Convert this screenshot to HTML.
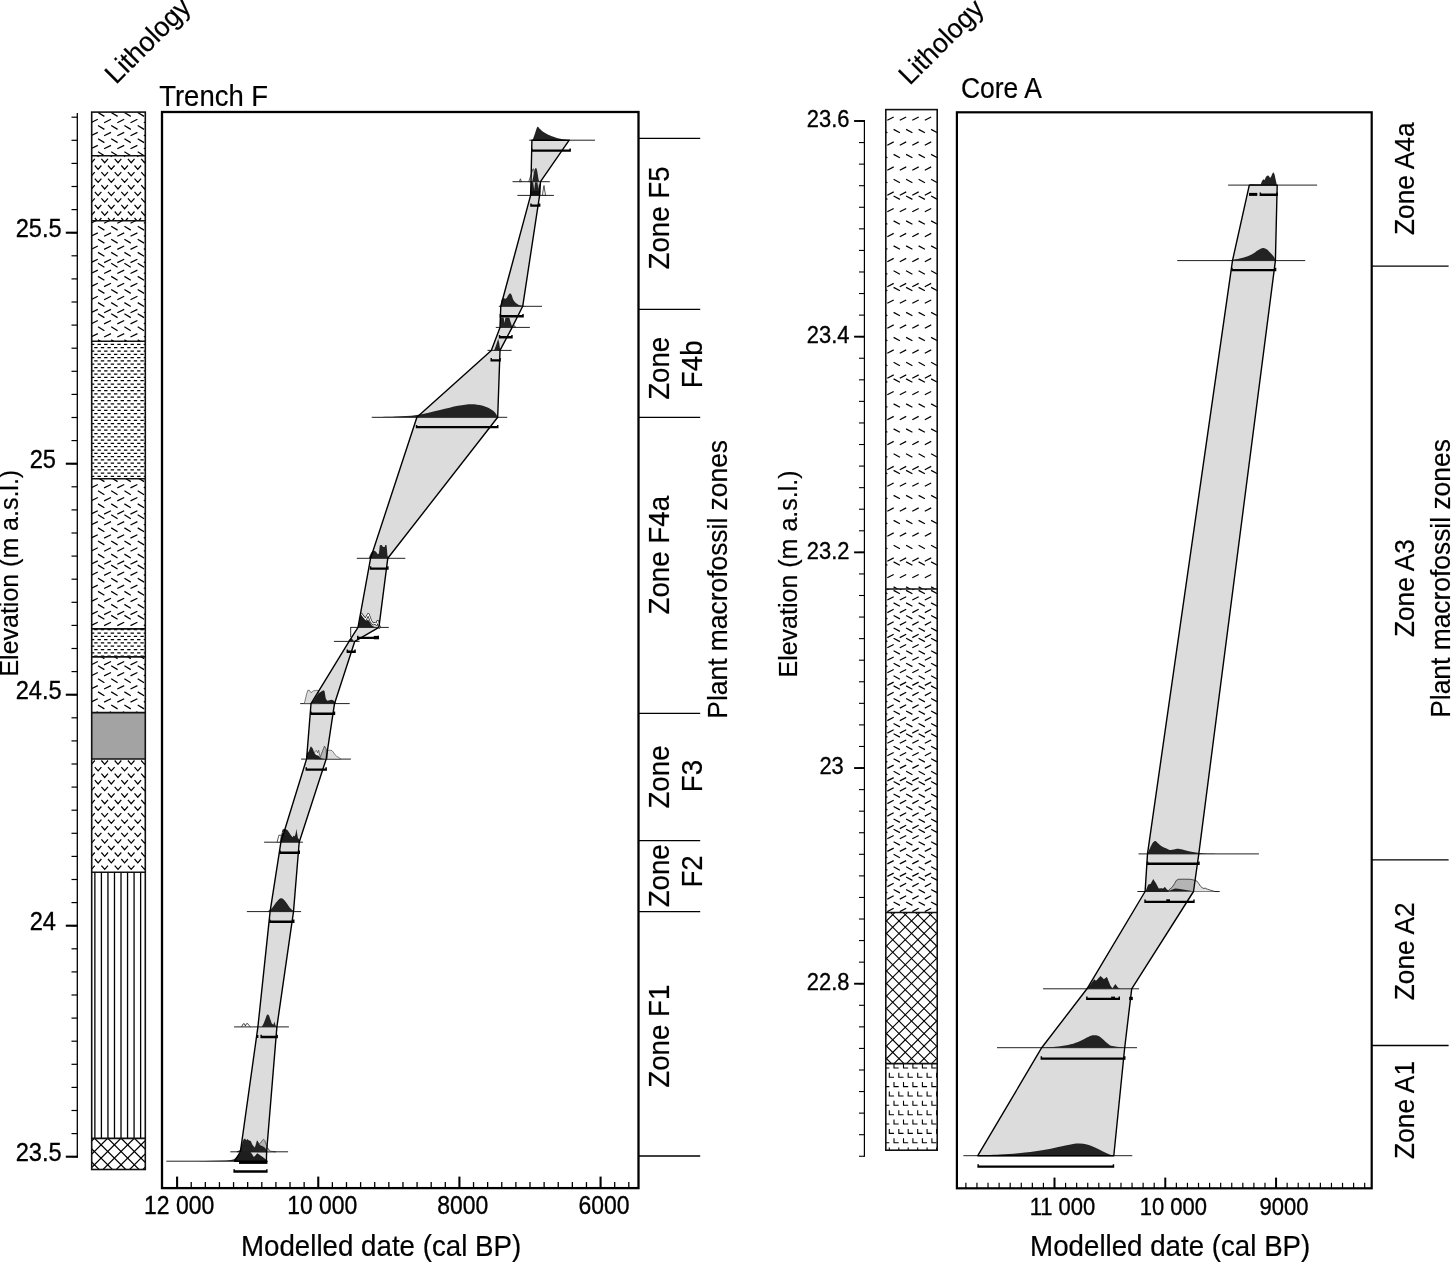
<!DOCTYPE html>
<html lang="en"><head><meta charset="utf-8"><title>Age-depth models: Trench F and Core A</title>
<style>html,body{margin:0;padding:0;background:#fff}body{width:1454px;height:1262px;overflow:hidden}svg{display:block}text{font-family:'Liberation Sans', Arial, Helvetica, sans-serif;fill:#000}</style>
</head><body>
<svg width="1454" height="1262" viewBox="0 0 1454 1262">
<rect x="0" y="0" width="1454" height="1262" fill="#fff"/>
<rect x="91.7" y="112.1" width="53.6" height="43.7" fill="#fff"/>
<clipPath id="hc1"><rect x="91.70" y="112.10" width="53.60" height="43.70"/></clipPath>
<path d="M90.9 111.7l6.9 -3.4M104.1 111.7l6.9 -3.4M117.3 111.7l6.9 -3.4M130.5 111.7l6.9 -3.4M143.8 111.7l6.9 -3.4M84.8 112.5l6.4 3.9M98.0 112.5l6.4 3.9M111.2 112.5l6.4 3.9M124.4 112.5l6.4 3.9M137.7 112.5l6.4 3.9M90.9 122.7l6.9 -3.4M104.1 122.7l6.9 -3.4M117.3 122.7l6.9 -3.4M130.5 122.7l6.9 -3.4M143.8 122.7l6.9 -3.4M84.8 125.5l6.4 3.9M98.0 125.5l6.4 3.9M111.2 125.5l6.4 3.9M124.4 125.5l6.4 3.9M137.7 125.5l6.4 3.9M90.9 135.8l6.9 -3.4M104.1 135.8l6.9 -3.4M117.3 135.8l6.9 -3.4M130.5 135.8l6.9 -3.4M143.8 135.8l6.9 -3.4M84.8 138.7l6.4 3.9M98.0 138.7l6.4 3.9M111.2 138.7l6.4 3.9M124.4 138.7l6.4 3.9M137.7 138.7l6.4 3.9M90.9 148.8l6.9 -3.4M104.1 148.8l6.9 -3.4M117.3 148.8l6.9 -3.4M130.5 148.8l6.9 -3.4M143.8 148.8l6.9 -3.4M84.8 151.8l6.4 3.9M98.0 151.8l6.4 3.9M111.2 151.8l6.4 3.9M124.4 151.8l6.4 3.9M137.7 151.8l6.4 3.9" clip-path="url(#hc1)" stroke="#000" stroke-width="1.25" fill="none"/>
<rect x="91.7" y="155.8" width="53.6" height="64.9" fill="#fff"/>
<clipPath id="hc2"><rect x="91.70" y="155.80" width="53.60" height="64.90"/></clipPath>
<path d="M94.8 152.4l3.3 3.8l3.3 -3.8M108.0 152.4l3.3 3.8l3.3 -3.8M121.3 152.4l3.3 3.8l3.3 -3.8M134.5 152.4l3.3 3.8l3.3 -3.8M88.2 158.9l3.3 3.8l3.3 -3.8M101.4 158.9l3.3 3.8l3.3 -3.8M114.7 158.9l3.3 3.8l3.3 -3.8M127.9 158.9l3.3 3.8l3.3 -3.8M141.2 158.9l3.3 3.8l3.3 -3.8M94.8 165.5l3.3 3.8l3.3 -3.8M108.0 165.5l3.3 3.8l3.3 -3.8M121.3 165.5l3.3 3.8l3.3 -3.8M134.5 165.5l3.3 3.8l3.3 -3.8M88.2 172.1l3.3 3.8l3.3 -3.8M101.4 172.1l3.3 3.8l3.3 -3.8M114.7 172.1l3.3 3.8l3.3 -3.8M127.9 172.1l3.3 3.8l3.3 -3.8M141.2 172.1l3.3 3.8l3.3 -3.8M94.8 178.6l3.3 3.8l3.3 -3.8M108.0 178.6l3.3 3.8l3.3 -3.8M121.3 178.6l3.3 3.8l3.3 -3.8M134.5 178.6l3.3 3.8l3.3 -3.8M88.2 185.2l3.3 3.8l3.3 -3.8M101.4 185.2l3.3 3.8l3.3 -3.8M114.7 185.2l3.3 3.8l3.3 -3.8M127.9 185.2l3.3 3.8l3.3 -3.8M141.2 185.2l3.3 3.8l3.3 -3.8M94.8 191.8l3.3 3.8l3.3 -3.8M108.0 191.8l3.3 3.8l3.3 -3.8M121.3 191.8l3.3 3.8l3.3 -3.8M134.5 191.8l3.3 3.8l3.3 -3.8M88.2 198.3l3.3 3.8l3.3 -3.8M101.4 198.3l3.3 3.8l3.3 -3.8M114.7 198.3l3.3 3.8l3.3 -3.8M127.9 198.3l3.3 3.8l3.3 -3.8M141.2 198.3l3.3 3.8l3.3 -3.8M94.8 204.9l3.3 3.8l3.3 -3.8M108.0 204.9l3.3 3.8l3.3 -3.8M121.3 204.9l3.3 3.8l3.3 -3.8M134.5 204.9l3.3 3.8l3.3 -3.8M88.2 211.5l3.3 3.8l3.3 -3.8M101.4 211.5l3.3 3.8l3.3 -3.8M114.7 211.5l3.3 3.8l3.3 -3.8M127.9 211.5l3.3 3.8l3.3 -3.8M141.2 211.5l3.3 3.8l3.3 -3.8M94.8 218.0l3.3 3.8l3.3 -3.8M108.0 218.0l3.3 3.8l3.3 -3.8M121.3 218.0l3.3 3.8l3.3 -3.8M134.5 218.0l3.3 3.8l3.3 -3.8" clip-path="url(#hc2)" stroke="#000" stroke-width="1.25" fill="none" stroke-linejoin="miter"/>
<rect x="91.7" y="220.7" width="53.6" height="120.5" fill="#fff"/>
<clipPath id="hc3"><rect x="91.70" y="220.70" width="53.60" height="120.50"/></clipPath>
<path d="M90.9 223.2l6.9 -3.4M104.1 223.2l6.9 -3.4M117.3 223.2l6.9 -3.4M130.5 223.2l6.9 -3.4M143.8 223.2l6.9 -3.4M84.8 226.2l6.4 3.9M98.0 226.2l6.4 3.9M111.2 226.2l6.4 3.9M124.4 226.2l6.4 3.9M137.7 226.2l6.4 3.9M90.9 236.3l6.9 -3.4M104.1 236.3l6.9 -3.4M117.3 236.3l6.9 -3.4M130.5 236.3l6.9 -3.4M143.8 236.3l6.9 -3.4M84.8 239.2l6.4 3.9M98.0 239.2l6.4 3.9M111.2 239.2l6.4 3.9M124.4 239.2l6.4 3.9M137.7 239.2l6.4 3.9M90.9 249.4l6.9 -3.4M104.1 249.4l6.9 -3.4M117.3 249.4l6.9 -3.4M130.5 249.4l6.9 -3.4M143.8 249.4l6.9 -3.4M84.8 252.4l6.4 3.9M98.0 252.4l6.4 3.9M111.2 252.4l6.4 3.9M124.4 252.4l6.4 3.9M137.7 252.4l6.4 3.9M90.9 262.6l6.9 -3.4M104.1 262.6l6.9 -3.4M117.3 262.6l6.9 -3.4M130.5 262.6l6.9 -3.4M143.8 262.6l6.9 -3.4M84.8 263.3l6.4 3.9M98.0 263.3l6.4 3.9M111.2 263.3l6.4 3.9M124.4 263.3l6.4 3.9M137.7 263.3l6.4 3.9M90.9 273.5l6.9 -3.4M104.1 273.5l6.9 -3.4M117.3 273.5l6.9 -3.4M130.5 273.5l6.9 -3.4M143.8 273.5l6.9 -3.4M84.8 276.4l6.4 3.9M98.0 276.4l6.4 3.9M111.2 276.4l6.4 3.9M124.4 276.4l6.4 3.9M137.7 276.4l6.4 3.9M90.9 286.6l6.9 -3.4M104.1 286.6l6.9 -3.4M117.3 286.6l6.9 -3.4M130.5 286.6l6.9 -3.4M143.8 286.6l6.9 -3.4M84.8 289.5l6.4 3.9M98.0 289.5l6.4 3.9M111.2 289.5l6.4 3.9M124.4 289.5l6.4 3.9M137.7 289.5l6.4 3.9M90.9 299.7l6.9 -3.4M104.1 299.7l6.9 -3.4M117.3 299.7l6.9 -3.4M130.5 299.7l6.9 -3.4M143.8 299.7l6.9 -3.4M84.8 302.6l6.4 3.9M98.0 302.6l6.4 3.9M111.2 302.6l6.4 3.9M124.4 302.6l6.4 3.9M137.7 302.6l6.4 3.9M90.9 312.8l6.9 -3.4M104.1 312.8l6.9 -3.4M117.3 312.8l6.9 -3.4M130.5 312.8l6.9 -3.4M143.8 312.8l6.9 -3.4M84.8 313.7l6.4 3.9M98.0 313.7l6.4 3.9M111.2 313.7l6.4 3.9M124.4 313.7l6.4 3.9M137.7 313.7l6.4 3.9M90.9 323.9l6.9 -3.4M104.1 323.9l6.9 -3.4M117.3 323.9l6.9 -3.4M130.5 323.9l6.9 -3.4M143.8 323.9l6.9 -3.4M84.8 326.8l6.4 3.9M98.0 326.8l6.4 3.9M111.2 326.8l6.4 3.9M124.4 326.8l6.4 3.9M137.7 326.8l6.4 3.9M90.9 337.0l6.9 -3.4M104.1 337.0l6.9 -3.4M117.3 337.0l6.9 -3.4M130.5 337.0l6.9 -3.4M143.8 337.0l6.9 -3.4M84.8 339.9l6.4 3.9M98.0 339.9l6.4 3.9M111.2 339.9l6.4 3.9M124.4 339.9l6.4 3.9M137.7 339.9l6.4 3.9" clip-path="url(#hc3)" stroke="#000" stroke-width="1.25" fill="none"/>
<rect x="91.7" y="341.2" width="53.6" height="137.6" fill="#fff"/>
<clipPath id="hc4"><rect x="91.70" y="341.20" width="53.60" height="137.60"/></clipPath>
<path d="M87.6 341.1h3.4M94.2 341.1h3.4M100.8 341.1h3.4M107.4 341.1h3.4M114.0 341.1h3.4M120.6 341.1h3.4M127.2 341.1h3.4M133.8 341.1h3.4M140.4 341.1h3.4M90.9 344.4h3.4M97.5 344.4h3.4M104.1 344.4h3.4M110.7 344.4h3.4M117.3 344.4h3.4M123.9 344.4h3.4M130.5 344.4h3.4M137.1 344.4h3.4M143.7 344.4h3.4M87.6 347.7h3.4M94.2 347.7h3.4M100.8 347.7h3.4M107.4 347.7h3.4M114.0 347.7h3.4M120.6 347.7h3.4M127.2 347.7h3.4M133.8 347.7h3.4M140.4 347.7h3.4M90.9 351.0h3.4M97.5 351.0h3.4M104.1 351.0h3.4M110.7 351.0h3.4M117.3 351.0h3.4M123.9 351.0h3.4M130.5 351.0h3.4M137.1 351.0h3.4M143.7 351.0h3.4M87.6 354.3h3.4M94.2 354.3h3.4M100.8 354.3h3.4M107.4 354.3h3.4M114.0 354.3h3.4M120.6 354.3h3.4M127.2 354.3h3.4M133.8 354.3h3.4M140.4 354.3h3.4M90.9 357.6h3.4M97.5 357.6h3.4M104.1 357.6h3.4M110.7 357.6h3.4M117.3 357.6h3.4M123.9 357.6h3.4M130.5 357.6h3.4M137.1 357.6h3.4M143.7 357.6h3.4M87.6 360.9h3.4M94.2 360.9h3.4M100.8 360.9h3.4M107.4 360.9h3.4M114.0 360.9h3.4M120.6 360.9h3.4M127.2 360.9h3.4M133.8 360.9h3.4M140.4 360.9h3.4M90.9 364.2h3.4M97.5 364.2h3.4M104.1 364.2h3.4M110.7 364.2h3.4M117.3 364.2h3.4M123.9 364.2h3.4M130.5 364.2h3.4M137.1 364.2h3.4M143.7 364.2h3.4M87.6 367.5h3.4M94.2 367.5h3.4M100.8 367.5h3.4M107.4 367.5h3.4M114.0 367.5h3.4M120.6 367.5h3.4M127.2 367.5h3.4M133.8 367.5h3.4M140.4 367.5h3.4M90.9 370.8h3.4M97.5 370.8h3.4M104.1 370.8h3.4M110.7 370.8h3.4M117.3 370.8h3.4M123.9 370.8h3.4M130.5 370.8h3.4M137.1 370.8h3.4M143.7 370.8h3.4M87.6 374.1h3.4M94.2 374.1h3.4M100.8 374.1h3.4M107.4 374.1h3.4M114.0 374.1h3.4M120.6 374.1h3.4M127.2 374.1h3.4M133.8 374.1h3.4M140.4 374.1h3.4M90.9 377.4h3.4M97.5 377.4h3.4M104.1 377.4h3.4M110.7 377.4h3.4M117.3 377.4h3.4M123.9 377.4h3.4M130.5 377.4h3.4M137.1 377.4h3.4M143.7 377.4h3.4M87.6 380.7h3.4M94.2 380.7h3.4M100.8 380.7h3.4M107.4 380.7h3.4M114.0 380.7h3.4M120.6 380.7h3.4M127.2 380.7h3.4M133.8 380.7h3.4M140.4 380.7h3.4M90.9 384.0h3.4M97.5 384.0h3.4M104.1 384.0h3.4M110.7 384.0h3.4M117.3 384.0h3.4M123.9 384.0h3.4M130.5 384.0h3.4M137.1 384.0h3.4M143.7 384.0h3.4M87.6 387.3h3.4M94.2 387.3h3.4M100.8 387.3h3.4M107.4 387.3h3.4M114.0 387.3h3.4M120.6 387.3h3.4M127.2 387.3h3.4M133.8 387.3h3.4M140.4 387.3h3.4M90.9 390.6h3.4M97.5 390.6h3.4M104.1 390.6h3.4M110.7 390.6h3.4M117.3 390.6h3.4M123.9 390.6h3.4M130.5 390.6h3.4M137.1 390.6h3.4M143.7 390.6h3.4M87.6 393.9h3.4M94.2 393.9h3.4M100.8 393.9h3.4M107.4 393.9h3.4M114.0 393.9h3.4M120.6 393.9h3.4M127.2 393.9h3.4M133.8 393.9h3.4M140.4 393.9h3.4M90.9 397.2h3.4M97.5 397.2h3.4M104.1 397.2h3.4M110.7 397.2h3.4M117.3 397.2h3.4M123.9 397.2h3.4M130.5 397.2h3.4M137.1 397.2h3.4M143.7 397.2h3.4M87.6 400.5h3.4M94.2 400.5h3.4M100.8 400.5h3.4M107.4 400.5h3.4M114.0 400.5h3.4M120.6 400.5h3.4M127.2 400.5h3.4M133.8 400.5h3.4M140.4 400.5h3.4M90.9 403.8h3.4M97.5 403.8h3.4M104.1 403.8h3.4M110.7 403.8h3.4M117.3 403.8h3.4M123.9 403.8h3.4M130.5 403.8h3.4M137.1 403.8h3.4M143.7 403.8h3.4M87.6 407.1h3.4M94.2 407.1h3.4M100.8 407.1h3.4M107.4 407.1h3.4M114.0 407.1h3.4M120.6 407.1h3.4M127.2 407.1h3.4M133.8 407.1h3.4M140.4 407.1h3.4M90.9 410.4h3.4M97.5 410.4h3.4M104.1 410.4h3.4M110.7 410.4h3.4M117.3 410.4h3.4M123.9 410.4h3.4M130.5 410.4h3.4M137.1 410.4h3.4M143.7 410.4h3.4M87.6 413.7h3.4M94.2 413.7h3.4M100.8 413.7h3.4M107.4 413.7h3.4M114.0 413.7h3.4M120.6 413.7h3.4M127.2 413.7h3.4M133.8 413.7h3.4M140.4 413.7h3.4M90.9 417.0h3.4M97.5 417.0h3.4M104.1 417.0h3.4M110.7 417.0h3.4M117.3 417.0h3.4M123.9 417.0h3.4M130.5 417.0h3.4M137.1 417.0h3.4M143.7 417.0h3.4M87.6 420.3h3.4M94.2 420.3h3.4M100.8 420.3h3.4M107.4 420.3h3.4M114.0 420.3h3.4M120.6 420.3h3.4M127.2 420.3h3.4M133.8 420.3h3.4M140.4 420.3h3.4M90.9 423.6h3.4M97.5 423.6h3.4M104.1 423.6h3.4M110.7 423.6h3.4M117.3 423.6h3.4M123.9 423.6h3.4M130.5 423.6h3.4M137.1 423.6h3.4M143.7 423.6h3.4M87.6 426.9h3.4M94.2 426.9h3.4M100.8 426.9h3.4M107.4 426.9h3.4M114.0 426.9h3.4M120.6 426.9h3.4M127.2 426.9h3.4M133.8 426.9h3.4M140.4 426.9h3.4M90.9 430.2h3.4M97.5 430.2h3.4M104.1 430.2h3.4M110.7 430.2h3.4M117.3 430.2h3.4M123.9 430.2h3.4M130.5 430.2h3.4M137.1 430.2h3.4M143.7 430.2h3.4M87.6 433.5h3.4M94.2 433.5h3.4M100.8 433.5h3.4M107.4 433.5h3.4M114.0 433.5h3.4M120.6 433.5h3.4M127.2 433.5h3.4M133.8 433.5h3.4M140.4 433.5h3.4M90.9 436.8h3.4M97.5 436.8h3.4M104.1 436.8h3.4M110.7 436.8h3.4M117.3 436.8h3.4M123.9 436.8h3.4M130.5 436.8h3.4M137.1 436.8h3.4M143.7 436.8h3.4M87.6 440.1h3.4M94.2 440.1h3.4M100.8 440.1h3.4M107.4 440.1h3.4M114.0 440.1h3.4M120.6 440.1h3.4M127.2 440.1h3.4M133.8 440.1h3.4M140.4 440.1h3.4M90.9 443.4h3.4M97.5 443.4h3.4M104.1 443.4h3.4M110.7 443.4h3.4M117.3 443.4h3.4M123.9 443.4h3.4M130.5 443.4h3.4M137.1 443.4h3.4M143.7 443.4h3.4M87.6 446.7h3.4M94.2 446.7h3.4M100.8 446.7h3.4M107.4 446.7h3.4M114.0 446.7h3.4M120.6 446.7h3.4M127.2 446.7h3.4M133.8 446.7h3.4M140.4 446.7h3.4M90.9 450.0h3.4M97.5 450.0h3.4M104.1 450.0h3.4M110.7 450.0h3.4M117.3 450.0h3.4M123.9 450.0h3.4M130.5 450.0h3.4M137.1 450.0h3.4M143.7 450.0h3.4M87.6 453.3h3.4M94.2 453.3h3.4M100.8 453.3h3.4M107.4 453.3h3.4M114.0 453.3h3.4M120.6 453.3h3.4M127.2 453.3h3.4M133.8 453.3h3.4M140.4 453.3h3.4M90.9 456.6h3.4M97.5 456.6h3.4M104.1 456.6h3.4M110.7 456.6h3.4M117.3 456.6h3.4M123.9 456.6h3.4M130.5 456.6h3.4M137.1 456.6h3.4M143.7 456.6h3.4M87.6 459.9h3.4M94.2 459.9h3.4M100.8 459.9h3.4M107.4 459.9h3.4M114.0 459.9h3.4M120.6 459.9h3.4M127.2 459.9h3.4M133.8 459.9h3.4M140.4 459.9h3.4M90.9 463.2h3.4M97.5 463.2h3.4M104.1 463.2h3.4M110.7 463.2h3.4M117.3 463.2h3.4M123.9 463.2h3.4M130.5 463.2h3.4M137.1 463.2h3.4M143.7 463.2h3.4M87.6 466.5h3.4M94.2 466.5h3.4M100.8 466.5h3.4M107.4 466.5h3.4M114.0 466.5h3.4M120.6 466.5h3.4M127.2 466.5h3.4M133.8 466.5h3.4M140.4 466.5h3.4M90.9 469.8h3.4M97.5 469.8h3.4M104.1 469.8h3.4M110.7 469.8h3.4M117.3 469.8h3.4M123.9 469.8h3.4M130.5 469.8h3.4M137.1 469.8h3.4M143.7 469.8h3.4M87.6 473.1h3.4M94.2 473.1h3.4M100.8 473.1h3.4M107.4 473.1h3.4M114.0 473.1h3.4M120.6 473.1h3.4M127.2 473.1h3.4M133.8 473.1h3.4M140.4 473.1h3.4M90.9 476.4h3.4M97.5 476.4h3.4M104.1 476.4h3.4M110.7 476.4h3.4M117.3 476.4h3.4M123.9 476.4h3.4M130.5 476.4h3.4M137.1 476.4h3.4M143.7 476.4h3.4M87.6 479.7h3.4M94.2 479.7h3.4M100.8 479.7h3.4M107.4 479.7h3.4M114.0 479.7h3.4M120.6 479.7h3.4M127.2 479.7h3.4M133.8 479.7h3.4M140.4 479.7h3.4" clip-path="url(#hc4)" stroke="#000" stroke-width="1.25" fill="none"/>
<rect x="91.7" y="478.8" width="53.6" height="150.1" fill="#fff"/>
<clipPath id="hc5"><rect x="91.70" y="478.80" width="53.60" height="150.10"/></clipPath>
<path d="M84.8 477.7l6.4 3.9M98.0 477.7l6.4 3.9M111.2 477.7l6.4 3.9M124.4 477.7l6.4 3.9M137.7 477.7l6.4 3.9M90.9 487.9l6.9 -3.4M104.1 487.9l6.9 -3.4M117.3 487.9l6.9 -3.4M130.5 487.9l6.9 -3.4M143.8 487.9l6.9 -3.4M84.8 490.8l6.4 3.9M98.0 490.8l6.4 3.9M111.2 490.8l6.4 3.9M124.4 490.8l6.4 3.9M137.7 490.8l6.4 3.9M90.9 500.9l6.9 -3.4M104.1 500.9l6.9 -3.4M117.3 500.9l6.9 -3.4M130.5 500.9l6.9 -3.4M143.8 500.9l6.9 -3.4M84.8 503.9l6.4 3.9M98.0 503.9l6.4 3.9M111.2 503.9l6.4 3.9M124.4 503.9l6.4 3.9M137.7 503.9l6.4 3.9M90.9 514.1l6.9 -3.4M104.1 514.1l6.9 -3.4M117.3 514.1l6.9 -3.4M130.5 514.1l6.9 -3.4M143.8 514.1l6.9 -3.4M84.8 514.8l6.4 3.9M98.0 514.8l6.4 3.9M111.2 514.8l6.4 3.9M124.4 514.8l6.4 3.9M137.7 514.8l6.4 3.9M90.9 525.0l6.9 -3.4M104.1 525.0l6.9 -3.4M117.3 525.0l6.9 -3.4M130.5 525.0l6.9 -3.4M143.8 525.0l6.9 -3.4M84.8 527.9l6.4 3.9M98.0 527.9l6.4 3.9M111.2 527.9l6.4 3.9M124.4 527.9l6.4 3.9M137.7 527.9l6.4 3.9M90.9 538.1l6.9 -3.4M104.1 538.1l6.9 -3.4M117.3 538.1l6.9 -3.4M130.5 538.1l6.9 -3.4M143.8 538.1l6.9 -3.4M84.8 541.0l6.4 3.9M98.0 541.0l6.4 3.9M111.2 541.0l6.4 3.9M124.4 541.0l6.4 3.9M137.7 541.0l6.4 3.9M90.9 551.2l6.9 -3.4M104.1 551.2l6.9 -3.4M117.3 551.2l6.9 -3.4M130.5 551.2l6.9 -3.4M143.8 551.2l6.9 -3.4M84.8 554.1l6.4 3.9M98.0 554.1l6.4 3.9M111.2 554.1l6.4 3.9M124.4 554.1l6.4 3.9M137.7 554.1l6.4 3.9M90.9 564.3l6.9 -3.4M104.1 564.3l6.9 -3.4M117.3 564.3l6.9 -3.4M130.5 564.3l6.9 -3.4M143.8 564.3l6.9 -3.4M84.8 565.1l6.4 3.9M98.0 565.1l6.4 3.9M111.2 565.1l6.4 3.9M124.4 565.1l6.4 3.9M137.7 565.1l6.4 3.9M90.9 575.4l6.9 -3.4M104.1 575.4l6.9 -3.4M117.3 575.4l6.9 -3.4M130.5 575.4l6.9 -3.4M143.8 575.4l6.9 -3.4M84.8 578.2l6.4 3.9M98.0 578.2l6.4 3.9M111.2 578.2l6.4 3.9M124.4 578.2l6.4 3.9M137.7 578.2l6.4 3.9M90.9 588.5l6.9 -3.4M104.1 588.5l6.9 -3.4M117.3 588.5l6.9 -3.4M130.5 588.5l6.9 -3.4M143.8 588.5l6.9 -3.4M84.8 591.4l6.4 3.9M98.0 591.4l6.4 3.9M111.2 591.4l6.4 3.9M124.4 591.4l6.4 3.9M137.7 591.4l6.4 3.9M90.9 601.6l6.9 -3.4M104.1 601.6l6.9 -3.4M117.3 601.6l6.9 -3.4M130.5 601.6l6.9 -3.4M143.8 601.6l6.9 -3.4M84.8 604.4l6.4 3.9M98.0 604.4l6.4 3.9M111.2 604.4l6.4 3.9M124.4 604.4l6.4 3.9M137.7 604.4l6.4 3.9M90.9 614.6l6.9 -3.4M104.1 614.6l6.9 -3.4M117.3 614.6l6.9 -3.4M130.5 614.6l6.9 -3.4M143.8 614.6l6.9 -3.4M84.8 615.4l6.4 3.9M98.0 615.4l6.4 3.9M111.2 615.4l6.4 3.9M124.4 615.4l6.4 3.9M137.7 615.4l6.4 3.9M90.9 625.6l6.9 -3.4M104.1 625.6l6.9 -3.4M117.3 625.6l6.9 -3.4M130.5 625.6l6.9 -3.4M143.8 625.6l6.9 -3.4M84.8 628.5l6.4 3.9M98.0 628.5l6.4 3.9M111.2 628.5l6.4 3.9M124.4 628.5l6.4 3.9M137.7 628.5l6.4 3.9" clip-path="url(#hc5)" stroke="#000" stroke-width="1.25" fill="none"/>
<rect x="91.7" y="628.9" width="53.6" height="28.0" fill="#fff"/>
<clipPath id="hc6"><rect x="91.70" y="628.90" width="53.60" height="28.00"/></clipPath>
<path d="M87.6 629.7h3.4M94.2 629.7h3.4M100.8 629.7h3.4M107.4 629.7h3.4M114.0 629.7h3.4M120.6 629.7h3.4M127.2 629.7h3.4M133.8 629.7h3.4M140.4 629.7h3.4M90.9 633.0h3.4M97.5 633.0h3.4M104.1 633.0h3.4M110.7 633.0h3.4M117.3 633.0h3.4M123.9 633.0h3.4M130.5 633.0h3.4M137.1 633.0h3.4M143.7 633.0h3.4M87.6 636.3h3.4M94.2 636.3h3.4M100.8 636.3h3.4M107.4 636.3h3.4M114.0 636.3h3.4M120.6 636.3h3.4M127.2 636.3h3.4M133.8 636.3h3.4M140.4 636.3h3.4M90.9 639.6h3.4M97.5 639.6h3.4M104.1 639.6h3.4M110.7 639.6h3.4M117.3 639.6h3.4M123.9 639.6h3.4M130.5 639.6h3.4M137.1 639.6h3.4M143.7 639.6h3.4M87.6 642.9h3.4M94.2 642.9h3.4M100.8 642.9h3.4M107.4 642.9h3.4M114.0 642.9h3.4M120.6 642.9h3.4M127.2 642.9h3.4M133.8 642.9h3.4M140.4 642.9h3.4M90.9 646.2h3.4M97.5 646.2h3.4M104.1 646.2h3.4M110.7 646.2h3.4M117.3 646.2h3.4M123.9 646.2h3.4M130.5 646.2h3.4M137.1 646.2h3.4M143.7 646.2h3.4M87.6 649.5h3.4M94.2 649.5h3.4M100.8 649.5h3.4M107.4 649.5h3.4M114.0 649.5h3.4M120.6 649.5h3.4M127.2 649.5h3.4M133.8 649.5h3.4M140.4 649.5h3.4M90.9 652.8h3.4M97.5 652.8h3.4M104.1 652.8h3.4M110.7 652.8h3.4M117.3 652.8h3.4M123.9 652.8h3.4M130.5 652.8h3.4M137.1 652.8h3.4M143.7 652.8h3.4M87.6 656.1h3.4M94.2 656.1h3.4M100.8 656.1h3.4M107.4 656.1h3.4M114.0 656.1h3.4M120.6 656.1h3.4M127.2 656.1h3.4M133.8 656.1h3.4M140.4 656.1h3.4" clip-path="url(#hc6)" stroke="#000" stroke-width="1.25" fill="none"/>
<rect x="91.7" y="656.9" width="53.6" height="55.7" fill="#fff"/>
<clipPath id="hc7"><rect x="91.70" y="656.90" width="53.60" height="55.70"/></clipPath>
<path d="M84.8 654.7l6.4 3.9M98.0 654.7l6.4 3.9M111.2 654.7l6.4 3.9M124.4 654.7l6.4 3.9M137.7 654.7l6.4 3.9M90.9 664.9l6.9 -3.4M104.1 664.9l6.9 -3.4M117.3 664.9l6.9 -3.4M130.5 664.9l6.9 -3.4M143.8 664.9l6.9 -3.4M84.8 665.7l6.4 3.9M98.0 665.7l6.4 3.9M111.2 665.7l6.4 3.9M124.4 665.7l6.4 3.9M137.7 665.7l6.4 3.9M90.9 675.9l6.9 -3.4M104.1 675.9l6.9 -3.4M117.3 675.9l6.9 -3.4M130.5 675.9l6.9 -3.4M143.8 675.9l6.9 -3.4M84.8 678.8l6.4 3.9M98.0 678.8l6.4 3.9M111.2 678.8l6.4 3.9M124.4 678.8l6.4 3.9M137.7 678.8l6.4 3.9M90.9 689.0l6.9 -3.4M104.1 689.0l6.9 -3.4M117.3 689.0l6.9 -3.4M130.5 689.0l6.9 -3.4M143.8 689.0l6.9 -3.4M84.8 691.9l6.4 3.9M98.0 691.9l6.4 3.9M111.2 691.9l6.4 3.9M124.4 691.9l6.4 3.9M137.7 691.9l6.4 3.9M90.9 702.1l6.9 -3.4M104.1 702.1l6.9 -3.4M117.3 702.1l6.9 -3.4M130.5 702.1l6.9 -3.4M143.8 702.1l6.9 -3.4M84.8 705.0l6.4 3.9M98.0 705.0l6.4 3.9M111.2 705.0l6.4 3.9M124.4 705.0l6.4 3.9M137.7 705.0l6.4 3.9M90.9 715.2l6.9 -3.4M104.1 715.2l6.9 -3.4M117.3 715.2l6.9 -3.4M130.5 715.2l6.9 -3.4M143.8 715.2l6.9 -3.4" clip-path="url(#hc7)" stroke="#000" stroke-width="1.25" fill="none"/>
<rect x="91.7" y="712.6" width="53.6" height="46.4" fill="#fff"/>
<rect x="91.7" y="712.6" width="53.6" height="46.4" fill="#a3a3a3"/>
<rect x="91.7" y="759.0" width="53.6" height="113.2" fill="#fff"/>
<clipPath id="hc8"><rect x="91.70" y="759.00" width="53.60" height="113.20"/></clipPath>
<path d="M88.2 760.5l3.3 3.8l3.3 -3.8M101.4 760.5l3.3 3.8l3.3 -3.8M114.7 760.5l3.3 3.8l3.3 -3.8M127.9 760.5l3.3 3.8l3.3 -3.8M141.2 760.5l3.3 3.8l3.3 -3.8M94.8 767.1l3.3 3.8l3.3 -3.8M108.0 767.1l3.3 3.8l3.3 -3.8M121.3 767.1l3.3 3.8l3.3 -3.8M134.5 767.1l3.3 3.8l3.3 -3.8M88.2 773.7l3.3 3.8l3.3 -3.8M101.4 773.7l3.3 3.8l3.3 -3.8M114.7 773.7l3.3 3.8l3.3 -3.8M127.9 773.7l3.3 3.8l3.3 -3.8M141.2 773.7l3.3 3.8l3.3 -3.8M94.8 780.2l3.3 3.8l3.3 -3.8M108.0 780.2l3.3 3.8l3.3 -3.8M121.3 780.2l3.3 3.8l3.3 -3.8M134.5 780.2l3.3 3.8l3.3 -3.8M88.2 786.8l3.3 3.8l3.3 -3.8M101.4 786.8l3.3 3.8l3.3 -3.8M114.7 786.8l3.3 3.8l3.3 -3.8M127.9 786.8l3.3 3.8l3.3 -3.8M141.2 786.8l3.3 3.8l3.3 -3.8M94.8 793.4l3.3 3.8l3.3 -3.8M108.0 793.4l3.3 3.8l3.3 -3.8M121.3 793.4l3.3 3.8l3.3 -3.8M134.5 793.4l3.3 3.8l3.3 -3.8M88.2 799.9l3.3 3.8l3.3 -3.8M101.4 799.9l3.3 3.8l3.3 -3.8M114.7 799.9l3.3 3.8l3.3 -3.8M127.9 799.9l3.3 3.8l3.3 -3.8M141.2 799.9l3.3 3.8l3.3 -3.8M94.8 806.5l3.3 3.8l3.3 -3.8M108.0 806.5l3.3 3.8l3.3 -3.8M121.3 806.5l3.3 3.8l3.3 -3.8M134.5 806.5l3.3 3.8l3.3 -3.8M88.2 813.1l3.3 3.8l3.3 -3.8M101.4 813.1l3.3 3.8l3.3 -3.8M114.7 813.1l3.3 3.8l3.3 -3.8M127.9 813.1l3.3 3.8l3.3 -3.8M141.2 813.1l3.3 3.8l3.3 -3.8M94.8 819.6l3.3 3.8l3.3 -3.8M108.0 819.6l3.3 3.8l3.3 -3.8M121.3 819.6l3.3 3.8l3.3 -3.8M134.5 819.6l3.3 3.8l3.3 -3.8M88.2 826.2l3.3 3.8l3.3 -3.8M101.4 826.2l3.3 3.8l3.3 -3.8M114.7 826.2l3.3 3.8l3.3 -3.8M127.9 826.2l3.3 3.8l3.3 -3.8M141.2 826.2l3.3 3.8l3.3 -3.8M94.8 832.8l3.3 3.8l3.3 -3.8M108.0 832.8l3.3 3.8l3.3 -3.8M121.3 832.8l3.3 3.8l3.3 -3.8M134.5 832.8l3.3 3.8l3.3 -3.8M88.2 839.3l3.3 3.8l3.3 -3.8M101.4 839.3l3.3 3.8l3.3 -3.8M114.7 839.3l3.3 3.8l3.3 -3.8M127.9 839.3l3.3 3.8l3.3 -3.8M141.2 839.3l3.3 3.8l3.3 -3.8M94.8 845.9l3.3 3.8l3.3 -3.8M108.0 845.9l3.3 3.8l3.3 -3.8M121.3 845.9l3.3 3.8l3.3 -3.8M134.5 845.9l3.3 3.8l3.3 -3.8M88.2 852.5l3.3 3.8l3.3 -3.8M101.4 852.5l3.3 3.8l3.3 -3.8M114.7 852.5l3.3 3.8l3.3 -3.8M127.9 852.5l3.3 3.8l3.3 -3.8M141.2 852.5l3.3 3.8l3.3 -3.8M94.8 859.0l3.3 3.8l3.3 -3.8M108.0 859.0l3.3 3.8l3.3 -3.8M121.3 859.0l3.3 3.8l3.3 -3.8M134.5 859.0l3.3 3.8l3.3 -3.8M88.2 865.6l3.3 3.8l3.3 -3.8M101.4 865.6l3.3 3.8l3.3 -3.8M114.7 865.6l3.3 3.8l3.3 -3.8M127.9 865.6l3.3 3.8l3.3 -3.8M141.2 865.6l3.3 3.8l3.3 -3.8M94.8 872.2l3.3 3.8l3.3 -3.8M108.0 872.2l3.3 3.8l3.3 -3.8M121.3 872.2l3.3 3.8l3.3 -3.8M134.5 872.2l3.3 3.8l3.3 -3.8" clip-path="url(#hc8)" stroke="#000" stroke-width="1.25" fill="none" stroke-linejoin="miter"/>
<rect x="91.7" y="872.2" width="53.6" height="266.2" fill="#fff"/>
<path d="M94.87 872.20 V1138.40 M101.41 872.20 V1138.40 M107.94 872.20 V1138.40 M114.48 872.20 V1138.40 M121.01 872.20 V1138.40 M127.55 872.20 V1138.40 M134.08 872.20 V1138.40 M140.62 872.20 V1138.40" stroke="#000" stroke-width="1.30" fill="none"/>
<rect x="91.7" y="1138.4" width="53.6" height="31.1" fill="#fff"/>
<clipPath id="hc9"><rect x="91.70" y="1138.40" width="53.60" height="31.10"/></clipPath>
<path d="M39.45 1136.40 L74.55 1171.50 M52.75 1136.40 L87.85 1171.50 M66.05 1136.40 L101.15 1171.50 M79.35 1136.40 L114.45 1171.50 M92.65 1136.40 L127.75 1171.50 M105.95 1136.40 L141.05 1171.50 M119.25 1136.40 L154.35 1171.50 M132.55 1136.40 L167.65 1171.50 M145.85 1136.40 L180.95 1171.50 M159.15 1136.40 L194.25 1171.50" clip-path="url(#hc9)" stroke="#000" stroke-width="1.25" fill="none"/>
<path d="M69.61 1136.40 L34.51 1171.50 M82.91 1136.40 L47.81 1171.50 M96.21 1136.40 L61.11 1171.50 M109.51 1136.40 L74.41 1171.50 M122.81 1136.40 L87.71 1171.50 M136.11 1136.40 L101.01 1171.50 M149.41 1136.40 L114.31 1171.50 M162.71 1136.40 L127.61 1171.50 M176.01 1136.40 L140.91 1171.50 M189.31 1136.40 L154.21 1171.50 M202.61 1136.40 L167.51 1171.50" clip-path="url(#hc9)" stroke="#000" stroke-width="1.25" fill="none"/>
<line x1="91.70" y1="155.80" x2="145.30" y2="155.80" stroke="#111" stroke-width="1.60" />
<line x1="91.70" y1="220.70" x2="145.30" y2="220.70" stroke="#111" stroke-width="1.60" />
<line x1="91.70" y1="341.20" x2="145.30" y2="341.20" stroke="#111" stroke-width="1.60" />
<line x1="91.70" y1="478.80" x2="145.30" y2="478.80" stroke="#111" stroke-width="1.60" />
<line x1="91.70" y1="628.90" x2="145.30" y2="628.90" stroke="#111" stroke-width="1.60" />
<line x1="91.70" y1="656.90" x2="145.30" y2="656.90" stroke="#111" stroke-width="1.60" />
<line x1="91.70" y1="712.60" x2="145.30" y2="712.60" stroke="#111" stroke-width="1.60" />
<line x1="91.70" y1="759.00" x2="145.30" y2="759.00" stroke="#111" stroke-width="1.60" />
<line x1="91.70" y1="872.20" x2="145.30" y2="872.20" stroke="#111" stroke-width="1.60" />
<line x1="91.70" y1="1138.40" x2="145.30" y2="1138.40" stroke="#111" stroke-width="1.60" />
<rect x="91.7" y="112.1" width="53.6" height="1057.4" fill="none" stroke="#111" stroke-width="1.6"/>
<line x1="77.30" y1="112.90" x2="77.30" y2="1157.70" stroke="#000" stroke-width="1.30" />
<line x1="65.80" y1="232.70" x2="77.90" y2="232.70" stroke="#000" stroke-width="2.10" />
<line x1="65.80" y1="463.70" x2="77.90" y2="463.70" stroke="#000" stroke-width="2.10" />
<line x1="65.80" y1="694.70" x2="77.90" y2="694.70" stroke="#000" stroke-width="2.10" />
<line x1="65.80" y1="925.70" x2="77.90" y2="925.70" stroke="#000" stroke-width="2.10" />
<line x1="65.80" y1="1156.70" x2="77.90" y2="1156.70" stroke="#000" stroke-width="2.10" />
<line x1="71.50" y1="117.20" x2="77.30" y2="117.20" stroke="#000" stroke-width="1.20" />
<line x1="71.50" y1="140.30" x2="77.30" y2="140.30" stroke="#000" stroke-width="1.20" />
<line x1="71.50" y1="163.40" x2="77.30" y2="163.40" stroke="#000" stroke-width="1.20" />
<line x1="71.50" y1="186.50" x2="77.30" y2="186.50" stroke="#000" stroke-width="1.20" />
<line x1="71.50" y1="209.60" x2="77.30" y2="209.60" stroke="#000" stroke-width="1.20" />
<line x1="71.50" y1="232.70" x2="77.30" y2="232.70" stroke="#000" stroke-width="1.20" />
<line x1="71.50" y1="255.80" x2="77.30" y2="255.80" stroke="#000" stroke-width="1.20" />
<line x1="71.50" y1="278.90" x2="77.30" y2="278.90" stroke="#000" stroke-width="1.20" />
<line x1="71.50" y1="302.00" x2="77.30" y2="302.00" stroke="#000" stroke-width="1.20" />
<line x1="71.50" y1="325.10" x2="77.30" y2="325.10" stroke="#000" stroke-width="1.20" />
<line x1="71.50" y1="348.20" x2="77.30" y2="348.20" stroke="#000" stroke-width="1.20" />
<line x1="71.50" y1="371.30" x2="77.30" y2="371.30" stroke="#000" stroke-width="1.20" />
<line x1="71.50" y1="394.40" x2="77.30" y2="394.40" stroke="#000" stroke-width="1.20" />
<line x1="71.50" y1="417.50" x2="77.30" y2="417.50" stroke="#000" stroke-width="1.20" />
<line x1="71.50" y1="440.60" x2="77.30" y2="440.60" stroke="#000" stroke-width="1.20" />
<line x1="71.50" y1="463.70" x2="77.30" y2="463.70" stroke="#000" stroke-width="1.20" />
<line x1="71.50" y1="486.80" x2="77.30" y2="486.80" stroke="#000" stroke-width="1.20" />
<line x1="71.50" y1="509.90" x2="77.30" y2="509.90" stroke="#000" stroke-width="1.20" />
<line x1="71.50" y1="533.00" x2="77.30" y2="533.00" stroke="#000" stroke-width="1.20" />
<line x1="71.50" y1="556.10" x2="77.30" y2="556.10" stroke="#000" stroke-width="1.20" />
<line x1="71.50" y1="579.20" x2="77.30" y2="579.20" stroke="#000" stroke-width="1.20" />
<line x1="71.50" y1="602.30" x2="77.30" y2="602.30" stroke="#000" stroke-width="1.20" />
<line x1="71.50" y1="625.40" x2="77.30" y2="625.40" stroke="#000" stroke-width="1.20" />
<line x1="71.50" y1="648.50" x2="77.30" y2="648.50" stroke="#000" stroke-width="1.20" />
<line x1="71.50" y1="671.60" x2="77.30" y2="671.60" stroke="#000" stroke-width="1.20" />
<line x1="71.50" y1="694.70" x2="77.30" y2="694.70" stroke="#000" stroke-width="1.20" />
<line x1="71.50" y1="717.80" x2="77.30" y2="717.80" stroke="#000" stroke-width="1.20" />
<line x1="71.50" y1="740.90" x2="77.30" y2="740.90" stroke="#000" stroke-width="1.20" />
<line x1="71.50" y1="764.00" x2="77.30" y2="764.00" stroke="#000" stroke-width="1.20" />
<line x1="71.50" y1="787.10" x2="77.30" y2="787.10" stroke="#000" stroke-width="1.20" />
<line x1="71.50" y1="810.20" x2="77.30" y2="810.20" stroke="#000" stroke-width="1.20" />
<line x1="71.50" y1="833.30" x2="77.30" y2="833.30" stroke="#000" stroke-width="1.20" />
<line x1="71.50" y1="856.40" x2="77.30" y2="856.40" stroke="#000" stroke-width="1.20" />
<line x1="71.50" y1="879.50" x2="77.30" y2="879.50" stroke="#000" stroke-width="1.20" />
<line x1="71.50" y1="902.60" x2="77.30" y2="902.60" stroke="#000" stroke-width="1.20" />
<line x1="71.50" y1="925.70" x2="77.30" y2="925.70" stroke="#000" stroke-width="1.20" />
<line x1="71.50" y1="948.80" x2="77.30" y2="948.80" stroke="#000" stroke-width="1.20" />
<line x1="71.50" y1="971.90" x2="77.30" y2="971.90" stroke="#000" stroke-width="1.20" />
<line x1="71.50" y1="995.00" x2="77.30" y2="995.00" stroke="#000" stroke-width="1.20" />
<line x1="71.50" y1="1018.10" x2="77.30" y2="1018.10" stroke="#000" stroke-width="1.20" />
<line x1="71.50" y1="1041.20" x2="77.30" y2="1041.20" stroke="#000" stroke-width="1.20" />
<line x1="71.50" y1="1064.30" x2="77.30" y2="1064.30" stroke="#000" stroke-width="1.20" />
<line x1="71.50" y1="1087.40" x2="77.30" y2="1087.40" stroke="#000" stroke-width="1.20" />
<line x1="71.50" y1="1110.50" x2="77.30" y2="1110.50" stroke="#000" stroke-width="1.20" />
<line x1="71.50" y1="1133.60" x2="77.30" y2="1133.60" stroke="#000" stroke-width="1.20" />
<line x1="71.50" y1="1156.70" x2="77.30" y2="1156.70" stroke="#000" stroke-width="1.20" />
<text transform="translate(61.60 236.90) scale(0.930 1)" font-size="25.40" text-anchor="end"  stroke="#000" stroke-width="0.35">25.5</text>
<text transform="translate(56.00 467.90) scale(0.930 1)" font-size="25.40" text-anchor="end"  stroke="#000" stroke-width="0.35">25</text>
<text transform="translate(61.60 698.90) scale(0.930 1)" font-size="25.40" text-anchor="end"  stroke="#000" stroke-width="0.35">24.5</text>
<text transform="translate(56.00 929.90) scale(0.930 1)" font-size="25.40" text-anchor="end"  stroke="#000" stroke-width="0.35">24</text>
<text transform="translate(61.60 1160.90) scale(0.930 1)" font-size="25.40" text-anchor="end"  stroke="#000" stroke-width="0.35">23.5</text>
<text transform="translate(18.00 573.20) rotate(-90) scale(0.997 1)" font-size="25.05" text-anchor="middle"  stroke="#000" stroke-width="0.20">Elevation (m a.s.l.)</text>
<polygon points="531.9,140.2 531.0,181.7 530.6,195.4 500.8,306.3 500.0,327.4 491.3,350.4 416.9,417.3 370.6,558.2 358.0,627.4 349.1,641.3 311.0,703.7 306.6,758.9 280.9,842.2 270.1,911.6 257.9,1026.9 240.4,1151.8 234.6,1161.2 266.4,1161.2 266.6,1151.8 276.9,1026.9 293.5,911.6 299.2,842.2 326.2,758.9 334.5,703.7 354.8,641.3 378.9,627.4 387.8,558.2 497.7,417.3 500.0,350.4 512.1,327.4 522.7,306.3 539.6,195.4 540.5,181.7 569.2,140.2" fill="#dcdcdc"/>
<line x1="529.20" y1="140.20" x2="595.00" y2="140.20" stroke="#222" stroke-width="1.00" />
<path d="M532.6 140.2 C533.0 139.1 534.2 135.7 535.0 133.5 C535.8 131.3 536.7 127.5 537.5 126.8 C538.3 126.0 539.1 128.2 540.0 129.0 C540.9 129.8 541.7 130.7 542.7 131.4 C543.7 132.2 544.8 132.8 546.0 133.5 C547.2 134.2 548.2 134.7 550.2 135.5 C552.2 136.3 554.6 137.4 557.7 138.2 C560.8 139.0 567.1 139.9 569.0 140.2 Z" fill="#232323" stroke="none" stroke-width="0.6"/>
<path d="M531.0 148.4h1.5v1.1H569.4v-1.1h1.5V151.8H531.0Z" fill="#000"/>
<line x1="512.50" y1="181.70" x2="549.80" y2="181.70" stroke="#222" stroke-width="1.00" />
<polygon points="528.7,181.7 531.0,175.0 533.0,168.8 534.0,169.5 534.5,181.7" fill="none" stroke="#2a2a2a" stroke-width="0.8" stroke-linejoin="round"/>
<polygon points="519.4,181.7 520.4,178.8 521.4,181.7" fill="none" stroke="#2a2a2a" stroke-width="0.8" stroke-linejoin="round"/>
<path d="M532.1 181.7 C532.4 180.6 533.1 177.1 533.6 175.0 C534.1 172.9 534.5 170.1 535.0 169.0 C535.5 167.9 536.0 167.9 536.4 168.4 C536.8 168.9 537.1 170.3 537.4 172.0 C537.7 173.7 538.1 176.9 538.4 178.5 C538.7 180.1 539.1 181.2 539.3 181.7 Z" fill="#232323" stroke="none" stroke-width="0.6"/>
<line x1="517.40" y1="195.40" x2="553.90" y2="195.40" stroke="#222" stroke-width="1.00" />
<polygon points="542.4,195.4 543.5,188.0 544.0,185.5 544.6,190.0 545.6,195.4" fill="none" stroke="#2a2a2a" stroke-width="0.8" stroke-linejoin="round"/>
<polygon points="530.7,195.4 531.0,182.2 533.2,182.2 534.2,190.0 535.0,182.2 537.4,182.2 538.4,189.0 539.0,183.0 540.3,186.0 540.0,195.4" fill="#232323" stroke="none" stroke-width="0.6" stroke-linejoin="round"/>
<rect x="530.6" y="191.0" width="9.6" height="4.6" fill="#111"/>
<path d="M530.2 203.4h1.5v1.1H538.9v-1.1h1.5V206.8H530.2Z" fill="#000"/>
<line x1="498.80" y1="306.30" x2="542.00" y2="306.30" stroke="#222" stroke-width="1.00" />
<path d="M500.8 306.3 C500.9 305.2 501.2 301.4 501.6 300.0 C502.0 298.6 502.5 298.4 503.2 298.2 C503.9 298.0 505.1 299.1 506.0 298.6 C506.9 298.1 507.7 295.9 508.4 295.0 C509.1 294.1 509.5 293.2 510.0 293.2 C510.5 293.2 511.0 293.9 511.6 295.0 C512.2 296.1 512.6 298.6 513.4 300.0 C514.2 301.4 515.4 302.7 516.5 303.6 C517.6 304.5 518.4 304.9 520.0 305.3 C521.6 305.8 525.0 306.1 526.0 306.3 Z" fill="#232323" stroke="none" stroke-width="0.6"/>
<path d="M499.6 314.0h1.5v1.1H522.3v-1.1h1.5V317.4H499.6Z" fill="#000"/>
<line x1="495.80" y1="327.40" x2="529.90" y2="327.40" stroke="#222" stroke-width="1.00" />
<polygon points="500.2,327.4 500.2,317.6 503.6,317.6 504.6,323.0 505.4,317.8 508.0,317.4 509.4,318.0 510.6,322.0 511.8,325.5 512.2,327.4" fill="#232323" stroke="none" stroke-width="0.6" stroke-linejoin="round"/>
<polygon points="513.5,327.4 514.6,325.6 515.6,327.4" fill="none" stroke="#2a2a2a" stroke-width="0.8" stroke-linejoin="round"/>
<path d="M498.8 335.0h1.5v1.1H511.2v-1.1h1.5V338.4H498.8Z" fill="#000"/>
<line x1="487.50" y1="350.40" x2="511.60" y2="350.40" stroke="#222" stroke-width="1.00" />
<polygon points="494.0,350.4 496.0,345.5 498.2,338.7 499.2,343.0 500.2,350.4" fill="#232323" stroke="none" stroke-width="0.6" stroke-linejoin="round"/>
<path d="M490.5 358.1h1.5v1.1H499.3v-1.1h1.5V361.5H490.5Z" fill="#000"/>
<line x1="371.70" y1="417.30" x2="507.20" y2="417.30" stroke="#222" stroke-width="1.00" />
<path d="M371.7 417.3 C375.6 417.2 387.5 417.0 395.0 416.6 C402.5 416.2 409.4 416.1 416.9 415.0 C424.4 413.9 433.1 411.5 440.0 410.0 C446.9 408.5 452.8 406.8 458.0 405.8 C463.2 404.8 467.5 404.2 471.5 404.2 C475.5 404.2 478.9 404.8 482.0 405.6 C485.1 406.4 487.8 407.6 490.0 408.8 C492.2 410.0 493.7 411.2 495.0 412.6 C496.3 414.0 497.2 416.5 497.7 417.3 Z" fill="#232323" stroke="none" stroke-width="0.6"/>
<path d="M415.8 424.9h1.5v1.1H497.0v-1.1h1.5V428.3H415.8Z" fill="#000"/>
<line x1="356.80" y1="558.30" x2="405.30" y2="558.30" stroke="#222" stroke-width="1.00" />
<polygon points="368.8,558.3 370.0,555.0 371.5,552.3 373.2,551.0 374.8,550.7 376.4,552.3 377.7,554.2 378.9,553.6 379.4,549.0 379.8,545.3 381.8,545.1 382.6,546.6 383.4,547.0 384.7,547.0 385.3,545.1 386.5,545.1 387.0,550.0 387.4,554.8 388.2,558.3" fill="#232323" stroke="none" stroke-width="0.6" stroke-linejoin="round"/>
<path d="M369.8 566.3h1.5v1.1H387.1v-1.1h1.5V569.8H369.8Z" fill="#000"/>
<line x1="350.70" y1="627.40" x2="388.80" y2="627.40" stroke="#222" stroke-width="1.00" />
<polygon points="358.2,627.4 359.6,620.0 360.8,613.5 361.8,615.2 363.2,616.9 365.6,620.2 366.8,620.4 368.0,619.7 369.0,621.0 370.0,622.6 371.9,625.5 373.6,626.6 375.7,627.4" fill="#1e1e1e" stroke="none" stroke-width="0.6" stroke-linejoin="round"/>
<polyline points="361.3,614.0 363.4,616.8 365.6,619.3 367.0,616.6 368.3,614.2 369.6,617.6 370.9,621.2 372.2,622.8 373.3,624.1 374.4,623.4 375.3,623.1 376.5,624.6 377.2,622.6 377.7,621.2 378.6,624.1 379.6,627.4" fill="none" stroke="#1a1a1a" stroke-width="2.4" stroke-linejoin="round" stroke-linecap="round"/>
<polyline points="361.3,614.0 363.4,616.8 365.6,619.3 367.0,616.6 368.3,614.2 369.6,617.6 370.9,621.2 372.2,622.8 373.3,624.1 374.4,623.4 375.3,623.1 376.5,624.6 377.2,622.6 377.7,621.2 378.6,624.1 379.6,627.4" fill="none" stroke="#fff" stroke-width="1.1" stroke-linejoin="round" stroke-linecap="round"/>
<line x1="350.70" y1="627.00" x2="350.70" y2="637.20" stroke="#111" stroke-width="0.90" />
<path d="M357.0 635.7h1.5v1.1H377.5v-1.1h1.5V639.1H357.0Z" fill="#000"/>
<rect x="373.8" y="635.9" width="5.1" height="3.4" fill="#000"/>
<line x1="333.90" y1="641.40" x2="359.60" y2="641.40" stroke="#222" stroke-width="1.00" />
<polygon points="347.8,641.4 349.6,639.6 351.2,638.0 352.6,639.6 354.1,641.4" fill="#1e1e1e" stroke="none" stroke-width="0.6" stroke-linejoin="round"/>
<path d="M346.6 649.5h1.5v1.1H354.3v-1.1h1.5V652.9H346.6Z" fill="#000"/>
<line x1="300.20" y1="703.60" x2="349.70" y2="703.60" stroke="#222" stroke-width="1.00" />
<polygon points="304.3,703.6 305.4,699.0 306.6,694.0 307.8,690.3 309.4,690.3 311.0,692.7 312.4,691.6 313.8,690.7 315.4,690.5 317.0,690.3 318.5,690.6 319.5,703.6" fill="#dcdcdc" stroke="#333" stroke-width="0.6" stroke-linejoin="round"/>
<polygon points="309.0,703.6 311.0,703.0 313.8,700.2 315.4,697.6 317.0,695.1 318.5,693.6 320.1,692.3 321.7,691.2 323.3,690.3 324.5,691.1 325.1,694.6 325.7,698.2 326.5,699.8 327.3,700.8 328.4,700.6 329.6,700.2 331.2,699.7 333.2,700.2 334.2,701.2 335.2,702.2 336.8,703.6" fill="#1e1e1e" stroke="none" stroke-width="0.6" stroke-linejoin="round"/>
<path d="M310.2 711.4h1.5v1.1H333.7v-1.1h1.5V714.9H310.2Z" fill="#000"/>
<line x1="301.10" y1="759.10" x2="350.90" y2="759.10" stroke="#222" stroke-width="1.00" />
<polygon points="326.5,759.1 327.0,755.0 327.3,751.3 328.4,750.6 329.6,750.2 330.8,750.3 332.0,750.6 333.2,752.0 334.4,753.7 335.6,755.2 336.8,756.5 337.8,757.0 338.8,757.3 339.8,758.2 340.7,759.1" fill="#dcdcdc" stroke="#333" stroke-width="0.6" stroke-linejoin="round"/>
<polygon points="314.6,759.1 314.6,751.7 315.6,751.0 316.6,750.6 317.7,752.9 318.7,750.2 319.7,755.3 320.1,757.7 322.3,752.0 324.5,746.2 325.3,747.6 326.1,749.0 326.9,751.3 327.3,759.1" fill="#e6e6e6" stroke="#333" stroke-width="0.6" stroke-linejoin="round"/>
<polygon points="320.1,757.7 322.3,752.0 324.5,746.2 325.3,747.6 326.1,749.0 326.5,759.1 320.1,759.1" fill="#b4b4b4" stroke="#333" stroke-width="0.5" stroke-linejoin="round"/>
<polygon points="306.3,759.1 307.0,752.9 308.6,751.7 309.7,749.0 310.8,746.2 311.9,747.6 313.0,749.0 313.8,751.4 314.6,753.7 316.2,754.9 318.5,755.7 320.1,757.7 322.4,758.4 324.9,759.1" fill="#1e1e1e" stroke="none" stroke-width="0.6" stroke-linejoin="round"/>
<path d="M305.5 767.3h1.5v1.1H325.4v-1.1h1.5V770.8H305.5Z" fill="#000"/>
<line x1="264.10" y1="842.20" x2="302.90" y2="842.20" stroke="#222" stroke-width="1.00" />
<polygon points="277.1,842.2 278.9,835.2 281.4,835.2 280.2,842.2" fill="#fff" stroke="#111" stroke-width="0.7" stroke-linejoin="round"/>
<polygon points="280.5,842.2 281.2,836.0 282.0,831.5 282.7,829.4 284.0,829.0 285.5,829.0 287.6,830.3 289.3,832.7 290.9,835.2 292.6,837.3 293.8,835.4 294.8,836.5 295.7,833.2 296.4,828.8 297.1,833.2 297.9,838.1 299.4,839.8 300.0,842.2" fill="#1e1e1e" stroke="none" stroke-width="0.6" stroke-linejoin="round"/>
<circle cx="283.3" cy="832.4" r="0.8" fill="#ccc"/>
<path d="M279.3 850.5h1.5v1.1H298.5v-1.1h1.5V853.9H279.3Z" fill="#000"/>
<line x1="246.90" y1="911.60" x2="301.10" y2="911.60" stroke="#222" stroke-width="1.00" />
<path d="M264.0 911.6 C264.8 911.4 267.6 911.3 269.0 910.6 C270.4 909.9 271.3 908.9 272.5 907.6 C273.7 906.3 274.9 904.0 276.0 902.6 C277.1 901.2 278.1 899.9 279.0 899.2 C279.9 898.5 280.5 898.3 281.2 898.3 C281.9 898.3 282.5 898.5 283.4 899.2 C284.3 900.0 285.4 901.4 286.4 902.8 C287.4 904.2 288.5 906.1 289.6 907.4 C290.7 908.7 291.8 909.7 293.0 910.4 C294.2 911.1 296.3 911.4 297.0 911.6 Z" fill="#232323" stroke="none" stroke-width="0.6"/>
<path d="M269.2 919.4h1.5v1.1H293.0v-1.1h1.5V922.9H269.2Z" fill="#000"/>
<line x1="234.10" y1="1026.90" x2="288.90" y2="1026.90" stroke="#222" stroke-width="1.00" />
<polyline points="241.6,1026.9 243.0,1024.0 244.2,1023.6 245.4,1026.0 246.4,1023.8 247.6,1023.4 249.0,1025.6 250.6,1026.9" fill="none" stroke="#222" stroke-width="0.8"/>
<polygon points="261.7,1026.9 263.4,1024.0 265.0,1020.0 266.6,1015.6 267.8,1014.2 269.0,1015.6 270.4,1019.6 271.8,1023.4 273.4,1024.8 274.4,1021.6 275.2,1024.6 276.3,1026.9" fill="#232323" stroke="none" stroke-width="0.6" stroke-linejoin="round"/>
<rect x="256.0" y="1035.0" width="2.4" height="3.0" fill="#000"/>
<path d="M260.4 1034.7h1.5v1.1H276.4v-1.1h1.5V1038.2H260.4Z" fill="#000"/>
<line x1="230.30" y1="1151.80" x2="288.10" y2="1151.80" stroke="#222" stroke-width="1.00" />
<polygon points="257.2,1151.8 257.6,1142.0 259.4,1143.6 261.1,1142.4 262.4,1140.2 263.5,1139.2 264.8,1140.6 266.0,1144.0 267.4,1147.4 269.0,1150.0 270.7,1151.2 276.0,1151.8" fill="#b4b4b4" stroke="#222" stroke-width="0.6" stroke-linejoin="round"/>
<polygon points="237.0,1151.8 240.0,1150.6 241.8,1146.0 243.2,1140.4 244.7,1138.8 246.2,1140.4 247.6,1139.4 249.0,1140.8 250.5,1141.2 252.0,1144.6 253.6,1146.8 254.8,1147.9 256.0,1145.0 257.2,1140.7 258.2,1143.2 259.6,1145.0 261.1,1146.0 263.0,1146.8 265.0,1148.2 267.0,1151.8" fill="#232323" stroke="#000" stroke-width="0.5" stroke-linejoin="round"/>
<line x1="166.30" y1="1161.20" x2="267.80" y2="1161.20" stroke="#222" stroke-width="1.00" />
<polygon points="195.0,1161.2 215.0,1160.8 226.0,1160.4 231.0,1160.0 234.1,1159.2 236.0,1157.6 238.0,1155.6 240.0,1153.4 241.8,1151.6 250.0,1151.6 251.6,1153.6 253.9,1157.0 255.4,1155.4 257.2,1153.2 259.4,1154.8 262.0,1156.4 264.4,1158.2 265.9,1159.6 267.4,1161.2" fill="#1e1e1e" stroke="none" stroke-width="0.6" stroke-linejoin="round"/>
<rect x="239.0" y="1160.9" width="28.4" height="3.0" fill="#000"/>
<path d="M233.4 1169.2h1.5v1.1H266.1v-1.1h1.5V1172.7H233.4Z" fill="#000"/>
<polygon points="531.9,140.2 531.0,181.7 530.6,195.4 500.8,306.3 500.0,327.4 491.3,350.4 416.9,417.3 370.6,558.2 358.0,627.4 349.1,641.3 311.0,703.7 306.6,758.9 280.9,842.2 270.1,911.6 257.9,1026.9 240.4,1151.8 234.6,1161.2 266.4,1161.2 266.6,1151.8 276.9,1026.9 293.5,911.6 299.2,842.2 326.2,758.9 334.5,703.7 354.8,641.3 378.9,627.4 387.8,558.2 497.7,417.3 500.0,350.4 512.1,327.4 522.7,306.3 539.6,195.4 540.5,181.7 569.2,140.2" fill="none" stroke="#000" stroke-width="1.4" stroke-linejoin="round"/>
<rect x="162.0" y="112.0" width="476.5" height="1076.1" fill="none" stroke="#000" stroke-width="2.3"/>
<line x1="177.10" y1="1176.60" x2="177.10" y2="1188.10" stroke="#000" stroke-width="2.10" />
<line x1="191.22" y1="1182.10" x2="191.22" y2="1188.10" stroke="#000" stroke-width="1.30" />
<line x1="205.33" y1="1182.10" x2="205.33" y2="1188.10" stroke="#000" stroke-width="1.30" />
<line x1="219.45" y1="1182.10" x2="219.45" y2="1188.10" stroke="#000" stroke-width="1.30" />
<line x1="233.56" y1="1182.10" x2="233.56" y2="1188.10" stroke="#000" stroke-width="1.30" />
<line x1="247.68" y1="1182.10" x2="247.68" y2="1188.10" stroke="#000" stroke-width="1.30" />
<line x1="261.80" y1="1182.10" x2="261.80" y2="1188.10" stroke="#000" stroke-width="1.30" />
<line x1="275.91" y1="1182.10" x2="275.91" y2="1188.10" stroke="#000" stroke-width="1.30" />
<line x1="290.03" y1="1182.10" x2="290.03" y2="1188.10" stroke="#000" stroke-width="1.30" />
<line x1="304.14" y1="1182.10" x2="304.14" y2="1188.10" stroke="#000" stroke-width="1.30" />
<line x1="318.26" y1="1176.60" x2="318.26" y2="1188.10" stroke="#000" stroke-width="2.10" />
<line x1="332.38" y1="1182.10" x2="332.38" y2="1188.10" stroke="#000" stroke-width="1.30" />
<line x1="346.49" y1="1182.10" x2="346.49" y2="1188.10" stroke="#000" stroke-width="1.30" />
<line x1="360.61" y1="1182.10" x2="360.61" y2="1188.10" stroke="#000" stroke-width="1.30" />
<line x1="374.72" y1="1182.10" x2="374.72" y2="1188.10" stroke="#000" stroke-width="1.30" />
<line x1="388.84" y1="1182.10" x2="388.84" y2="1188.10" stroke="#000" stroke-width="1.30" />
<line x1="402.96" y1="1182.10" x2="402.96" y2="1188.10" stroke="#000" stroke-width="1.30" />
<line x1="417.07" y1="1182.10" x2="417.07" y2="1188.10" stroke="#000" stroke-width="1.30" />
<line x1="431.19" y1="1182.10" x2="431.19" y2="1188.10" stroke="#000" stroke-width="1.30" />
<line x1="445.30" y1="1182.10" x2="445.30" y2="1188.10" stroke="#000" stroke-width="1.30" />
<line x1="459.42" y1="1176.60" x2="459.42" y2="1188.10" stroke="#000" stroke-width="2.10" />
<line x1="473.54" y1="1182.10" x2="473.54" y2="1188.10" stroke="#000" stroke-width="1.30" />
<line x1="487.65" y1="1182.10" x2="487.65" y2="1188.10" stroke="#000" stroke-width="1.30" />
<line x1="501.77" y1="1182.10" x2="501.77" y2="1188.10" stroke="#000" stroke-width="1.30" />
<line x1="515.88" y1="1182.10" x2="515.88" y2="1188.10" stroke="#000" stroke-width="1.30" />
<line x1="530.00" y1="1182.10" x2="530.00" y2="1188.10" stroke="#000" stroke-width="1.30" />
<line x1="544.12" y1="1182.10" x2="544.12" y2="1188.10" stroke="#000" stroke-width="1.30" />
<line x1="558.23" y1="1182.10" x2="558.23" y2="1188.10" stroke="#000" stroke-width="1.30" />
<line x1="572.35" y1="1182.10" x2="572.35" y2="1188.10" stroke="#000" stroke-width="1.30" />
<line x1="586.46" y1="1182.10" x2="586.46" y2="1188.10" stroke="#000" stroke-width="1.30" />
<line x1="600.58" y1="1176.60" x2="600.58" y2="1188.10" stroke="#000" stroke-width="2.10" />
<line x1="614.70" y1="1182.10" x2="614.70" y2="1188.10" stroke="#000" stroke-width="1.30" />
<line x1="628.81" y1="1182.10" x2="628.81" y2="1188.10" stroke="#000" stroke-width="1.30" />
<text transform="translate(179.20 1213.60) scale(0.904 1)" font-size="25.40" text-anchor="middle"  stroke="#000" stroke-width="0.35">12 000</text>
<text transform="translate(322.26 1213.60) scale(0.904 1)" font-size="25.40" text-anchor="middle"  stroke="#000" stroke-width="0.35">10 000</text>
<text transform="translate(462.72 1213.60) scale(0.904 1)" font-size="25.40" text-anchor="middle"  stroke="#000" stroke-width="0.35">8000</text>
<text transform="translate(603.98 1213.60) scale(0.904 1)" font-size="25.40" text-anchor="middle"  stroke="#000" stroke-width="0.35">6000</text>
<text transform="translate(381.10 1256.00) scale(0.952 1)" font-size="29.10" text-anchor="middle"  stroke="#000" stroke-width="0.20">Modelled date (cal BP)</text>
<text transform="translate(159.20 105.60) scale(0.955 1)" font-size="28.80" text-anchor="start"  stroke="#000" stroke-width="0.20">Trench F</text>
<text transform="translate(116.10 84.90) rotate(-45) scale(0.987 1)" font-size="27.30" text-anchor="start"  stroke="#000" stroke-width="0.20">Lithology</text>
<line x1="638.50" y1="138.30" x2="700.20" y2="138.30" stroke="#000" stroke-width="1.30" />
<line x1="638.50" y1="309.30" x2="700.20" y2="309.30" stroke="#000" stroke-width="1.30" />
<line x1="638.50" y1="417.30" x2="700.20" y2="417.30" stroke="#000" stroke-width="1.30" />
<line x1="638.50" y1="713.30" x2="700.20" y2="713.30" stroke="#000" stroke-width="1.30" />
<line x1="638.50" y1="840.60" x2="700.20" y2="840.60" stroke="#000" stroke-width="1.30" />
<line x1="638.50" y1="911.60" x2="700.20" y2="911.60" stroke="#000" stroke-width="1.30" />
<line x1="638.50" y1="1156.00" x2="700.20" y2="1156.00" stroke="#000" stroke-width="1.30" />
<text transform="translate(669.40 217.90) rotate(-90) scale(0.952 1)" font-size="29.09" text-anchor="middle"  stroke="#000" stroke-width="0.20">Zone F5</text>
<text transform="translate(669.40 368.30) rotate(-90) scale(0.952 1)" font-size="29.09" text-anchor="middle"  stroke="#000" stroke-width="0.20">Zone</text>
<text transform="translate(702.30 364.30) rotate(-90) scale(0.952 1)" font-size="29.09" text-anchor="middle"  stroke="#000" stroke-width="0.20">F4b</text>
<text transform="translate(669.40 555.20) rotate(-90) scale(0.952 1)" font-size="29.09" text-anchor="middle"  stroke="#000" stroke-width="0.20">Zone F4a</text>
<text transform="translate(669.40 777.00) rotate(-90) scale(0.952 1)" font-size="29.09" text-anchor="middle"  stroke="#000" stroke-width="0.20">Zone</text>
<text transform="translate(702.30 776.00) rotate(-90) scale(0.952 1)" font-size="29.09" text-anchor="middle"  stroke="#000" stroke-width="0.20">F3</text>
<text transform="translate(669.40 875.80) rotate(-90) scale(0.952 1)" font-size="29.09" text-anchor="middle"  stroke="#000" stroke-width="0.20">Zone</text>
<text transform="translate(702.30 871.40) rotate(-90) scale(0.952 1)" font-size="29.09" text-anchor="middle"  stroke="#000" stroke-width="0.20">F2</text>
<text transform="translate(669.40 1036.20) rotate(-90) scale(0.952 1)" font-size="29.09" text-anchor="middle"  stroke="#000" stroke-width="0.20">Zone F1</text>
<text transform="translate(727.00 579.30) rotate(-90) scale(0.978 1)" font-size="27.00" text-anchor="middle"  stroke="#000" stroke-width="0.20">Plant macrofossil zones</text>
<rect x="885.8" y="109.6" width="51.4" height="479.3" fill="#fff"/>
<clipPath id="hc10"><rect x="885.80" y="109.60" width="51.40" height="479.30"/></clipPath>
<path d="M887.3 120.3l6.4 -3.3M899.8 120.3l6.4 -3.3M912.3 120.3l6.4 -3.3M924.8 120.3l6.4 -3.3M937.3 120.3l6.4 -3.3M881.1 129.4l6.3 3.4M893.6 129.4l6.3 3.4M906.1 129.4l6.3 3.4M918.6 129.4l6.3 3.4M931.1 129.4l6.3 3.4M887.3 145.2l6.4 -3.3M899.8 145.2l6.4 -3.3M912.3 145.2l6.4 -3.3M924.8 145.2l6.4 -3.3M937.3 145.2l6.4 -3.3M881.1 154.4l6.3 3.4M893.6 154.4l6.3 3.4M906.1 154.4l6.3 3.4M918.6 154.4l6.3 3.4M931.1 154.4l6.3 3.4M887.3 170.2l6.4 -3.3M899.8 170.2l6.4 -3.3M912.3 170.2l6.4 -3.3M924.8 170.2l6.4 -3.3M937.3 170.2l6.4 -3.3M881.1 179.3l6.3 3.4M893.6 179.3l6.3 3.4M906.1 179.3l6.3 3.4M918.6 179.3l6.3 3.4M931.1 179.3l6.3 3.4M887.3 195.2l6.4 -3.3M899.8 195.2l6.4 -3.3M912.3 195.2l6.4 -3.3M924.8 195.2l6.4 -3.3M937.3 195.2l6.4 -3.3M881.1 196.0l6.3 3.4M893.6 196.0l6.3 3.4M906.1 196.0l6.3 3.4M918.6 196.0l6.3 3.4M931.1 196.0l6.3 3.4M887.3 211.8l6.4 -3.3M899.8 211.8l6.4 -3.3M912.3 211.8l6.4 -3.3M924.8 211.8l6.4 -3.3M937.3 211.8l6.4 -3.3M881.1 220.9l6.3 3.4M893.6 220.9l6.3 3.4M906.1 220.9l6.3 3.4M918.6 220.9l6.3 3.4M931.1 220.9l6.3 3.4M887.3 236.7l6.4 -3.3M899.8 236.7l6.4 -3.3M912.3 236.7l6.4 -3.3M924.8 236.7l6.4 -3.3M937.3 236.7l6.4 -3.3M881.1 245.9l6.3 3.4M893.6 245.9l6.3 3.4M906.1 245.9l6.3 3.4M918.6 245.9l6.3 3.4M931.1 245.9l6.3 3.4M887.3 261.7l6.4 -3.3M899.8 261.7l6.4 -3.3M912.3 261.7l6.4 -3.3M924.8 261.7l6.4 -3.3M937.3 261.7l6.4 -3.3M881.1 270.8l6.3 3.4M893.6 270.8l6.3 3.4M906.1 270.8l6.3 3.4M918.6 270.8l6.3 3.4M931.1 270.8l6.3 3.4M887.3 286.7l6.4 -3.3M899.8 286.7l6.4 -3.3M912.3 286.7l6.4 -3.3M924.8 286.7l6.4 -3.3M937.3 286.7l6.4 -3.3M881.1 287.4l6.3 3.4M893.6 287.4l6.3 3.4M906.1 287.4l6.3 3.4M918.6 287.4l6.3 3.4M931.1 287.4l6.3 3.4M887.3 303.3l6.4 -3.3M899.8 303.3l6.4 -3.3M912.3 303.3l6.4 -3.3M924.8 303.3l6.4 -3.3M937.3 303.3l6.4 -3.3M881.1 312.4l6.3 3.4M893.6 312.4l6.3 3.4M906.1 312.4l6.3 3.4M918.6 312.4l6.3 3.4M931.1 312.4l6.3 3.4M887.3 328.2l6.4 -3.3M899.8 328.2l6.4 -3.3M912.3 328.2l6.4 -3.3M924.8 328.2l6.4 -3.3M937.3 328.2l6.4 -3.3M881.1 337.4l6.3 3.4M893.6 337.4l6.3 3.4M906.1 337.4l6.3 3.4M918.6 337.4l6.3 3.4M931.1 337.4l6.3 3.4M887.3 353.2l6.4 -3.3M899.8 353.2l6.4 -3.3M912.3 353.2l6.4 -3.3M924.8 353.2l6.4 -3.3M937.3 353.2l6.4 -3.3M881.1 362.3l6.3 3.4M893.6 362.3l6.3 3.4M906.1 362.3l6.3 3.4M918.6 362.3l6.3 3.4M931.1 362.3l6.3 3.4M887.3 378.2l6.4 -3.3M899.8 378.2l6.4 -3.3M912.3 378.2l6.4 -3.3M924.8 378.2l6.4 -3.3M937.3 378.2l6.4 -3.3M881.1 378.9l6.3 3.4M893.6 378.9l6.3 3.4M906.1 378.9l6.3 3.4M918.6 378.9l6.3 3.4M931.1 378.9l6.3 3.4M887.3 394.8l6.4 -3.3M899.8 394.8l6.4 -3.3M912.3 394.8l6.4 -3.3M924.8 394.8l6.4 -3.3M937.3 394.8l6.4 -3.3M881.1 403.9l6.3 3.4M893.6 403.9l6.3 3.4M906.1 403.9l6.3 3.4M918.6 403.9l6.3 3.4M931.1 403.9l6.3 3.4M887.3 419.7l6.4 -3.3M899.8 419.7l6.4 -3.3M912.3 419.7l6.4 -3.3M924.8 419.7l6.4 -3.3M937.3 419.7l6.4 -3.3M881.1 428.9l6.3 3.4M893.6 428.9l6.3 3.4M906.1 428.9l6.3 3.4M918.6 428.9l6.3 3.4M931.1 428.9l6.3 3.4M887.3 444.7l6.4 -3.3M899.8 444.7l6.4 -3.3M912.3 444.7l6.4 -3.3M924.8 444.7l6.4 -3.3M937.3 444.7l6.4 -3.3M881.1 453.8l6.3 3.4M893.6 453.8l6.3 3.4M906.1 453.8l6.3 3.4M918.6 453.8l6.3 3.4M931.1 453.8l6.3 3.4M887.3 469.7l6.4 -3.3M899.8 469.7l6.4 -3.3M912.3 469.7l6.4 -3.3M924.8 469.7l6.4 -3.3M937.3 469.7l6.4 -3.3M881.1 470.4l6.3 3.4M893.6 470.4l6.3 3.4M906.1 470.4l6.3 3.4M918.6 470.4l6.3 3.4M931.1 470.4l6.3 3.4M887.3 486.3l6.4 -3.3M899.8 486.3l6.4 -3.3M912.3 486.3l6.4 -3.3M924.8 486.3l6.4 -3.3M937.3 486.3l6.4 -3.3M881.1 495.4l6.3 3.4M893.6 495.4l6.3 3.4M906.1 495.4l6.3 3.4M918.6 495.4l6.3 3.4M931.1 495.4l6.3 3.4M887.3 511.2l6.4 -3.3M899.8 511.2l6.4 -3.3M912.3 511.2l6.4 -3.3M924.8 511.2l6.4 -3.3M937.3 511.2l6.4 -3.3M881.1 520.4l6.3 3.4M893.6 520.4l6.3 3.4M906.1 520.4l6.3 3.4M918.6 520.4l6.3 3.4M931.1 520.4l6.3 3.4M887.3 536.2l6.4 -3.3M899.8 536.2l6.4 -3.3M912.3 536.2l6.4 -3.3M924.8 536.2l6.4 -3.3M937.3 536.2l6.4 -3.3M881.1 545.3l6.3 3.4M893.6 545.3l6.3 3.4M906.1 545.3l6.3 3.4M918.6 545.3l6.3 3.4M931.1 545.3l6.3 3.4M887.3 561.2l6.4 -3.3M899.8 561.2l6.4 -3.3M912.3 561.2l6.4 -3.3M924.8 561.2l6.4 -3.3M937.3 561.2l6.4 -3.3M881.1 561.9l6.3 3.4M893.6 561.9l6.3 3.4M906.1 561.9l6.3 3.4M918.6 561.9l6.3 3.4M931.1 561.9l6.3 3.4M887.3 577.8l6.4 -3.3M899.8 577.8l6.4 -3.3M912.3 577.8l6.4 -3.3M924.8 577.8l6.4 -3.3M937.3 577.8l6.4 -3.3M881.1 586.9l6.3 3.4M893.6 586.9l6.3 3.4M906.1 586.9l6.3 3.4M918.6 586.9l6.3 3.4M931.1 586.9l6.3 3.4" clip-path="url(#hc10)" stroke="#000" stroke-width="1.20" fill="none"/>
<rect x="885.8" y="588.9" width="51.4" height="323.6" fill="#fff"/>
<clipPath id="hc11"><rect x="885.80" y="588.90" width="51.40" height="323.60"/></clipPath>
<path d="M887.3 589.8l6.4 -3.3M899.8 589.8l6.4 -3.3M912.3 589.8l6.4 -3.3M924.8 589.8l6.4 -3.3M937.3 589.8l6.4 -3.3M881.1 590.4l6.3 3.4M893.6 590.4l6.3 3.4M906.1 590.4l6.3 3.4M918.6 590.4l6.3 3.4M931.1 590.4l6.3 3.4M887.3 600.0l6.4 -3.3M899.8 600.0l6.4 -3.3M912.3 600.0l6.4 -3.3M924.8 600.0l6.4 -3.3M937.3 600.0l6.4 -3.3M881.1 602.9l6.3 3.4M893.6 602.9l6.3 3.4M906.1 602.9l6.3 3.4M918.6 602.9l6.3 3.4M931.1 602.9l6.3 3.4M887.3 612.6l6.4 -3.3M899.8 612.6l6.4 -3.3M912.3 612.6l6.4 -3.3M924.8 612.6l6.4 -3.3M937.3 612.6l6.4 -3.3M881.1 615.5l6.3 3.4M893.6 615.5l6.3 3.4M906.1 615.5l6.3 3.4M918.6 615.5l6.3 3.4M931.1 615.5l6.3 3.4M887.3 625.1l6.4 -3.3M899.8 625.1l6.4 -3.3M912.3 625.1l6.4 -3.3M924.8 625.1l6.4 -3.3M937.3 625.1l6.4 -3.3M881.1 628.0l6.3 3.4M893.6 628.0l6.3 3.4M906.1 628.0l6.3 3.4M918.6 628.0l6.3 3.4M931.1 628.0l6.3 3.4M887.3 637.6l6.4 -3.3M899.8 637.6l6.4 -3.3M912.3 637.6l6.4 -3.3M924.8 637.6l6.4 -3.3M937.3 637.6l6.4 -3.3M881.1 638.2l6.3 3.4M893.6 638.2l6.3 3.4M906.1 638.2l6.3 3.4M918.6 638.2l6.3 3.4M931.1 638.2l6.3 3.4M887.3 647.8l6.4 -3.3M899.8 647.8l6.4 -3.3M912.3 647.8l6.4 -3.3M924.8 647.8l6.4 -3.3M937.3 647.8l6.4 -3.3M881.1 650.7l6.3 3.4M893.6 650.7l6.3 3.4M906.1 650.7l6.3 3.4M918.6 650.7l6.3 3.4M931.1 650.7l6.3 3.4M887.3 660.3l6.4 -3.3M899.8 660.3l6.4 -3.3M912.3 660.3l6.4 -3.3M924.8 660.3l6.4 -3.3M937.3 660.3l6.4 -3.3M881.1 663.2l6.3 3.4M893.6 663.2l6.3 3.4M906.1 663.2l6.3 3.4M918.6 663.2l6.3 3.4M931.1 663.2l6.3 3.4M887.3 672.8l6.4 -3.3M899.8 672.8l6.4 -3.3M912.3 672.8l6.4 -3.3M924.8 672.8l6.4 -3.3M937.3 672.8l6.4 -3.3M881.1 675.8l6.3 3.4M893.6 675.8l6.3 3.4M906.1 675.8l6.3 3.4M918.6 675.8l6.3 3.4M931.1 675.8l6.3 3.4M887.3 685.4l6.4 -3.3M899.8 685.4l6.4 -3.3M912.3 685.4l6.4 -3.3M924.8 685.4l6.4 -3.3M937.3 685.4l6.4 -3.3M881.1 685.9l6.3 3.4M893.6 685.9l6.3 3.4M906.1 685.9l6.3 3.4M918.6 685.9l6.3 3.4M931.1 685.9l6.3 3.4M887.3 695.6l6.4 -3.3M899.8 695.6l6.4 -3.3M912.3 695.6l6.4 -3.3M924.8 695.6l6.4 -3.3M937.3 695.6l6.4 -3.3M881.1 698.5l6.3 3.4M893.6 698.5l6.3 3.4M906.1 698.5l6.3 3.4M918.6 698.5l6.3 3.4M931.1 698.5l6.3 3.4M887.3 708.1l6.4 -3.3M899.8 708.1l6.4 -3.3M912.3 708.1l6.4 -3.3M924.8 708.1l6.4 -3.3M937.3 708.1l6.4 -3.3M881.1 711.0l6.3 3.4M893.6 711.0l6.3 3.4M906.1 711.0l6.3 3.4M918.6 711.0l6.3 3.4M931.1 711.0l6.3 3.4M887.3 720.6l6.4 -3.3M899.8 720.6l6.4 -3.3M912.3 720.6l6.4 -3.3M924.8 720.6l6.4 -3.3M937.3 720.6l6.4 -3.3M881.1 723.5l6.3 3.4M893.6 723.5l6.3 3.4M906.1 723.5l6.3 3.4M918.6 723.5l6.3 3.4M931.1 723.5l6.3 3.4M887.3 733.1l6.4 -3.3M899.8 733.1l6.4 -3.3M912.3 733.1l6.4 -3.3M924.8 733.1l6.4 -3.3M937.3 733.1l6.4 -3.3M881.1 733.7l6.3 3.4M893.6 733.7l6.3 3.4M906.1 733.7l6.3 3.4M918.6 733.7l6.3 3.4M931.1 733.7l6.3 3.4M887.3 743.3l6.4 -3.3M899.8 743.3l6.4 -3.3M912.3 743.3l6.4 -3.3M924.8 743.3l6.4 -3.3M937.3 743.3l6.4 -3.3M881.1 746.2l6.3 3.4M893.6 746.2l6.3 3.4M906.1 746.2l6.3 3.4M918.6 746.2l6.3 3.4M931.1 746.2l6.3 3.4M887.3 755.8l6.4 -3.3M899.8 755.8l6.4 -3.3M912.3 755.8l6.4 -3.3M924.8 755.8l6.4 -3.3M937.3 755.8l6.4 -3.3M881.1 758.7l6.3 3.4M893.6 758.7l6.3 3.4M906.1 758.7l6.3 3.4M918.6 758.7l6.3 3.4M931.1 758.7l6.3 3.4M887.3 768.4l6.4 -3.3M899.8 768.4l6.4 -3.3M912.3 768.4l6.4 -3.3M924.8 768.4l6.4 -3.3M937.3 768.4l6.4 -3.3M881.1 771.3l6.3 3.4M893.6 771.3l6.3 3.4M906.1 771.3l6.3 3.4M918.6 771.3l6.3 3.4M931.1 771.3l6.3 3.4M887.3 780.9l6.4 -3.3M899.8 780.9l6.4 -3.3M912.3 780.9l6.4 -3.3M924.8 780.9l6.4 -3.3M937.3 780.9l6.4 -3.3M881.1 781.5l6.3 3.4M893.6 781.5l6.3 3.4M906.1 781.5l6.3 3.4M918.6 781.5l6.3 3.4M931.1 781.5l6.3 3.4M887.3 791.1l6.4 -3.3M899.8 791.1l6.4 -3.3M912.3 791.1l6.4 -3.3M924.8 791.1l6.4 -3.3M937.3 791.1l6.4 -3.3M881.1 794.0l6.3 3.4M893.6 794.0l6.3 3.4M906.1 794.0l6.3 3.4M918.6 794.0l6.3 3.4M931.1 794.0l6.3 3.4M887.3 803.6l6.4 -3.3M899.8 803.6l6.4 -3.3M912.3 803.6l6.4 -3.3M924.8 803.6l6.4 -3.3M937.3 803.6l6.4 -3.3M881.1 806.5l6.3 3.4M893.6 806.5l6.3 3.4M906.1 806.5l6.3 3.4M918.6 806.5l6.3 3.4M931.1 806.5l6.3 3.4M887.3 816.1l6.4 -3.3M899.8 816.1l6.4 -3.3M912.3 816.1l6.4 -3.3M924.8 816.1l6.4 -3.3M937.3 816.1l6.4 -3.3M881.1 819.0l6.3 3.4M893.6 819.0l6.3 3.4M906.1 819.0l6.3 3.4M918.6 819.0l6.3 3.4M931.1 819.0l6.3 3.4M887.3 828.6l6.4 -3.3M899.8 828.6l6.4 -3.3M912.3 828.6l6.4 -3.3M924.8 828.6l6.4 -3.3M937.3 828.6l6.4 -3.3M881.1 829.2l6.3 3.4M893.6 829.2l6.3 3.4M906.1 829.2l6.3 3.4M918.6 829.2l6.3 3.4M931.1 829.2l6.3 3.4M887.3 838.8l6.4 -3.3M899.8 838.8l6.4 -3.3M912.3 838.8l6.4 -3.3M924.8 838.8l6.4 -3.3M937.3 838.8l6.4 -3.3M881.1 841.7l6.3 3.4M893.6 841.7l6.3 3.4M906.1 841.7l6.3 3.4M918.6 841.7l6.3 3.4M931.1 841.7l6.3 3.4M887.3 851.4l6.4 -3.3M899.8 851.4l6.4 -3.3M912.3 851.4l6.4 -3.3M924.8 851.4l6.4 -3.3M937.3 851.4l6.4 -3.3M881.1 854.3l6.3 3.4M893.6 854.3l6.3 3.4M906.1 854.3l6.3 3.4M918.6 854.3l6.3 3.4M931.1 854.3l6.3 3.4M887.3 863.9l6.4 -3.3M899.8 863.9l6.4 -3.3M912.3 863.9l6.4 -3.3M924.8 863.9l6.4 -3.3M937.3 863.9l6.4 -3.3M881.1 866.8l6.3 3.4M893.6 866.8l6.3 3.4M906.1 866.8l6.3 3.4M918.6 866.8l6.3 3.4M931.1 866.8l6.3 3.4M887.3 876.4l6.4 -3.3M899.8 876.4l6.4 -3.3M912.3 876.4l6.4 -3.3M924.8 876.4l6.4 -3.3M937.3 876.4l6.4 -3.3M881.1 877.0l6.3 3.4M893.6 877.0l6.3 3.4M906.1 877.0l6.3 3.4M918.6 877.0l6.3 3.4M931.1 877.0l6.3 3.4M887.3 886.6l6.4 -3.3M899.8 886.6l6.4 -3.3M912.3 886.6l6.4 -3.3M924.8 886.6l6.4 -3.3M937.3 886.6l6.4 -3.3M881.1 889.5l6.3 3.4M893.6 889.5l6.3 3.4M906.1 889.5l6.3 3.4M918.6 889.5l6.3 3.4M931.1 889.5l6.3 3.4M887.3 899.1l6.4 -3.3M899.8 899.1l6.4 -3.3M912.3 899.1l6.4 -3.3M924.8 899.1l6.4 -3.3M937.3 899.1l6.4 -3.3M881.1 902.0l6.3 3.4M893.6 902.0l6.3 3.4M906.1 902.0l6.3 3.4M918.6 902.0l6.3 3.4M931.1 902.0l6.3 3.4M887.3 911.6l6.4 -3.3M899.8 911.6l6.4 -3.3M912.3 911.6l6.4 -3.3M924.8 911.6l6.4 -3.3M937.3 911.6l6.4 -3.3" clip-path="url(#hc11)" stroke="#000" stroke-width="1.20" fill="none"/>
<rect x="885.8" y="912.5" width="51.4" height="151.1" fill="#fff"/>
<clipPath id="hc12"><rect x="885.80" y="912.50" width="51.40" height="151.10"/></clipPath>
<path d="M713.32 910.50 L868.42 1065.60 M725.84 910.50 L880.94 1065.60 M738.36 910.50 L893.46 1065.60 M750.88 910.50 L905.98 1065.60 M763.40 910.50 L918.50 1065.60 M775.92 910.50 L931.02 1065.60 M788.44 910.50 L943.54 1065.60 M800.96 910.50 L956.06 1065.60 M813.48 910.50 L968.58 1065.60 M826.00 910.50 L981.10 1065.60 M838.52 910.50 L993.62 1065.60 M851.04 910.50 L1006.14 1065.60 M863.56 910.50 L1018.66 1065.60 M876.08 910.50 L1031.18 1065.60 M888.60 910.50 L1043.70 1065.60 M901.12 910.50 L1056.22 1065.60 M913.64 910.50 L1068.74 1065.60 M926.16 910.50 L1081.26 1065.60 M938.68 910.50 L1093.78 1065.60 M951.20 910.50 L1106.30 1065.60" clip-path="url(#hc12)" stroke="#000" stroke-width="1.10" fill="none"/>
<path d="M871.84 910.50 L716.74 1065.60 M884.36 910.50 L729.26 1065.60 M896.88 910.50 L741.78 1065.60 M909.40 910.50 L754.30 1065.60 M921.92 910.50 L766.82 1065.60 M934.44 910.50 L779.34 1065.60 M946.96 910.50 L791.86 1065.60 M959.48 910.50 L804.38 1065.60 M972.00 910.50 L816.90 1065.60 M984.52 910.50 L829.42 1065.60 M997.04 910.50 L841.94 1065.60 M1009.56 910.50 L854.46 1065.60 M1022.08 910.50 L866.98 1065.60 M1034.60 910.50 L879.50 1065.60 M1047.12 910.50 L892.02 1065.60 M1059.64 910.50 L904.54 1065.60 M1072.16 910.50 L917.06 1065.60 M1084.68 910.50 L929.58 1065.60 M1097.20 910.50 L942.10 1065.60 M1109.72 910.50 L954.62 1065.60" clip-path="url(#hc12)" stroke="#000" stroke-width="1.10" fill="none"/>
<rect x="885.8" y="1063.6" width="51.4" height="86.6" fill="#fff"/>
<clipPath id="hc13"><rect x="885.80" y="1063.60" width="51.40" height="86.60"/></clipPath>
<path d="M884.6 1063.5v4.5h4.7M894.0 1063.5v4.5h4.7M903.5 1063.5v4.5h4.7M912.9 1063.5v4.5h4.7M922.4 1063.5v4.5h4.7M931.9 1063.5v4.5h4.7M889.3 1072.8v4.5h4.7M898.8 1072.8v4.5h4.7M908.2 1072.8v4.5h4.7M917.7 1072.8v4.5h4.7M927.1 1072.8v4.5h4.7M936.6 1072.8v4.5h4.7M884.6 1082.1v4.5h4.7M894.0 1082.1v4.5h4.7M903.5 1082.1v4.5h4.7M912.9 1082.1v4.5h4.7M922.4 1082.1v4.5h4.7M931.9 1082.1v4.5h4.7M889.3 1091.5v4.5h4.7M898.8 1091.5v4.5h4.7M908.2 1091.5v4.5h4.7M917.7 1091.5v4.5h4.7M927.1 1091.5v4.5h4.7M936.6 1091.5v4.5h4.7M884.6 1100.8v4.5h4.7M894.0 1100.8v4.5h4.7M903.5 1100.8v4.5h4.7M912.9 1100.8v4.5h4.7M922.4 1100.8v4.5h4.7M931.9 1100.8v4.5h4.7M889.3 1110.2v4.5h4.7M898.8 1110.2v4.5h4.7M908.2 1110.2v4.5h4.7M917.7 1110.2v4.5h4.7M927.1 1110.2v4.5h4.7M936.6 1110.2v4.5h4.7M884.6 1119.5v4.5h4.7M894.0 1119.5v4.5h4.7M903.5 1119.5v4.5h4.7M912.9 1119.5v4.5h4.7M922.4 1119.5v4.5h4.7M931.9 1119.5v4.5h4.7M889.3 1128.9v4.5h4.7M898.8 1128.9v4.5h4.7M908.2 1128.9v4.5h4.7M917.7 1128.9v4.5h4.7M927.1 1128.9v4.5h4.7M936.6 1128.9v4.5h4.7M884.6 1138.2v4.5h4.7M894.0 1138.2v4.5h4.7M903.5 1138.2v4.5h4.7M912.9 1138.2v4.5h4.7M922.4 1138.2v4.5h4.7M931.9 1138.2v4.5h4.7M889.3 1147.6v4.5h4.7M898.8 1147.6v4.5h4.7M908.2 1147.6v4.5h4.7M917.7 1147.6v4.5h4.7M927.1 1147.6v4.5h4.7M936.6 1147.6v4.5h4.7" clip-path="url(#hc13)" stroke="#000" stroke-width="1.10" fill="none"/>
<line x1="885.80" y1="588.90" x2="937.20" y2="588.90" stroke="#111" stroke-width="1.55" />
<line x1="885.80" y1="912.50" x2="937.20" y2="912.50" stroke="#111" stroke-width="1.55" />
<line x1="885.80" y1="1063.60" x2="937.20" y2="1063.60" stroke="#111" stroke-width="1.55" />
<rect x="885.8" y="109.6" width="51.4" height="1040.6" fill="none" stroke="#111" stroke-width="1.6"/>
<line x1="864.40" y1="120.10" x2="864.40" y2="1156.80" stroke="#000" stroke-width="1.20" />
<line x1="854.10" y1="121.00" x2="865.00" y2="121.00" stroke="#000" stroke-width="1.90" />
<line x1="854.10" y1="336.68" x2="865.00" y2="336.68" stroke="#000" stroke-width="1.90" />
<line x1="854.10" y1="552.36" x2="865.00" y2="552.36" stroke="#000" stroke-width="1.90" />
<line x1="854.10" y1="768.04" x2="865.00" y2="768.04" stroke="#000" stroke-width="1.90" />
<line x1="854.10" y1="983.72" x2="865.00" y2="983.72" stroke="#000" stroke-width="1.90" />
<line x1="859.00" y1="121.00" x2="864.40" y2="121.00" stroke="#000" stroke-width="1.10" />
<line x1="859.00" y1="142.57" x2="864.40" y2="142.57" stroke="#000" stroke-width="1.10" />
<line x1="859.00" y1="164.14" x2="864.40" y2="164.14" stroke="#000" stroke-width="1.10" />
<line x1="859.00" y1="185.70" x2="864.40" y2="185.70" stroke="#000" stroke-width="1.10" />
<line x1="859.00" y1="207.27" x2="864.40" y2="207.27" stroke="#000" stroke-width="1.10" />
<line x1="859.00" y1="228.84" x2="864.40" y2="228.84" stroke="#000" stroke-width="1.10" />
<line x1="859.00" y1="250.41" x2="864.40" y2="250.41" stroke="#000" stroke-width="1.10" />
<line x1="859.00" y1="271.98" x2="864.40" y2="271.98" stroke="#000" stroke-width="1.10" />
<line x1="859.00" y1="293.54" x2="864.40" y2="293.54" stroke="#000" stroke-width="1.10" />
<line x1="859.00" y1="315.11" x2="864.40" y2="315.11" stroke="#000" stroke-width="1.10" />
<line x1="859.00" y1="336.68" x2="864.40" y2="336.68" stroke="#000" stroke-width="1.10" />
<line x1="859.00" y1="358.25" x2="864.40" y2="358.25" stroke="#000" stroke-width="1.10" />
<line x1="859.00" y1="379.82" x2="864.40" y2="379.82" stroke="#000" stroke-width="1.10" />
<line x1="859.00" y1="401.38" x2="864.40" y2="401.38" stroke="#000" stroke-width="1.10" />
<line x1="859.00" y1="422.95" x2="864.40" y2="422.95" stroke="#000" stroke-width="1.10" />
<line x1="859.00" y1="444.52" x2="864.40" y2="444.52" stroke="#000" stroke-width="1.10" />
<line x1="859.00" y1="466.09" x2="864.40" y2="466.09" stroke="#000" stroke-width="1.10" />
<line x1="859.00" y1="487.66" x2="864.40" y2="487.66" stroke="#000" stroke-width="1.10" />
<line x1="859.00" y1="509.22" x2="864.40" y2="509.22" stroke="#000" stroke-width="1.10" />
<line x1="859.00" y1="530.79" x2="864.40" y2="530.79" stroke="#000" stroke-width="1.10" />
<line x1="859.00" y1="552.36" x2="864.40" y2="552.36" stroke="#000" stroke-width="1.10" />
<line x1="859.00" y1="573.93" x2="864.40" y2="573.93" stroke="#000" stroke-width="1.10" />
<line x1="859.00" y1="595.50" x2="864.40" y2="595.50" stroke="#000" stroke-width="1.10" />
<line x1="859.00" y1="617.06" x2="864.40" y2="617.06" stroke="#000" stroke-width="1.10" />
<line x1="859.00" y1="638.63" x2="864.40" y2="638.63" stroke="#000" stroke-width="1.10" />
<line x1="859.00" y1="660.20" x2="864.40" y2="660.20" stroke="#000" stroke-width="1.10" />
<line x1="859.00" y1="681.77" x2="864.40" y2="681.77" stroke="#000" stroke-width="1.10" />
<line x1="859.00" y1="703.34" x2="864.40" y2="703.34" stroke="#000" stroke-width="1.10" />
<line x1="859.00" y1="724.90" x2="864.40" y2="724.90" stroke="#000" stroke-width="1.10" />
<line x1="859.00" y1="746.47" x2="864.40" y2="746.47" stroke="#000" stroke-width="1.10" />
<line x1="859.00" y1="768.04" x2="864.40" y2="768.04" stroke="#000" stroke-width="1.10" />
<line x1="859.00" y1="789.61" x2="864.40" y2="789.61" stroke="#000" stroke-width="1.10" />
<line x1="859.00" y1="811.18" x2="864.40" y2="811.18" stroke="#000" stroke-width="1.10" />
<line x1="859.00" y1="832.74" x2="864.40" y2="832.74" stroke="#000" stroke-width="1.10" />
<line x1="859.00" y1="854.31" x2="864.40" y2="854.31" stroke="#000" stroke-width="1.10" />
<line x1="859.00" y1="875.88" x2="864.40" y2="875.88" stroke="#000" stroke-width="1.10" />
<line x1="859.00" y1="897.45" x2="864.40" y2="897.45" stroke="#000" stroke-width="1.10" />
<line x1="859.00" y1="919.02" x2="864.40" y2="919.02" stroke="#000" stroke-width="1.10" />
<line x1="859.00" y1="940.58" x2="864.40" y2="940.58" stroke="#000" stroke-width="1.10" />
<line x1="859.00" y1="962.15" x2="864.40" y2="962.15" stroke="#000" stroke-width="1.10" />
<line x1="859.00" y1="983.72" x2="864.40" y2="983.72" stroke="#000" stroke-width="1.10" />
<line x1="859.00" y1="1005.29" x2="864.40" y2="1005.29" stroke="#000" stroke-width="1.10" />
<line x1="859.00" y1="1026.86" x2="864.40" y2="1026.86" stroke="#000" stroke-width="1.10" />
<line x1="859.00" y1="1048.42" x2="864.40" y2="1048.42" stroke="#000" stroke-width="1.10" />
<line x1="859.00" y1="1069.99" x2="864.40" y2="1069.99" stroke="#000" stroke-width="1.10" />
<line x1="859.00" y1="1091.56" x2="864.40" y2="1091.56" stroke="#000" stroke-width="1.10" />
<line x1="859.00" y1="1113.13" x2="864.40" y2="1113.13" stroke="#000" stroke-width="1.10" />
<line x1="859.00" y1="1134.70" x2="864.40" y2="1134.70" stroke="#000" stroke-width="1.10" />
<line x1="859.00" y1="1156.26" x2="864.40" y2="1156.26" stroke="#000" stroke-width="1.10" />
<text transform="translate(849.40 127.30) scale(0.890 1)" font-size="24.60" text-anchor="end"  stroke="#000" stroke-width="0.35">23.6</text>
<text transform="translate(849.40 342.98) scale(0.890 1)" font-size="24.60" text-anchor="end"  stroke="#000" stroke-width="0.35">23.4</text>
<text transform="translate(849.40 558.66) scale(0.890 1)" font-size="24.60" text-anchor="end"  stroke="#000" stroke-width="0.35">23.2</text>
<text transform="translate(843.80 774.34) scale(0.890 1)" font-size="24.60" text-anchor="end"  stroke="#000" stroke-width="0.35">23</text>
<text transform="translate(849.40 990.02) scale(0.890 1)" font-size="24.60" text-anchor="end"  stroke="#000" stroke-width="0.35">22.8</text>
<text transform="translate(797.00 574.00) rotate(-90) scale(0.962 1)" font-size="26.00" text-anchor="middle"  stroke="#000" stroke-width="0.20">Elevation (m a.s.l.)</text>
<polygon points="1249.3,185.1 1232.5,260.6 1147.5,853.9 1145.1,891.5 1087.0,988.8 1041.7,1047.7 977.8,1155.7 1113.8,1155.7 1124.7,1047.7 1131.7,988.8 1193.5,891.5 1198.8,853.9 1275.4,260.6 1277.2,185.1" fill="#dcdcdc"/>
<line x1="1228.10" y1="185.10" x2="1317.10" y2="185.10" stroke="#222" stroke-width="1.00" />
<polygon points="1249.5,185.1 1250.5,184.2 1256.0,184.4 1260.7,184.6 1262.0,181.0 1263.4,179.2 1264.6,180.0 1266.0,176.8 1267.6,175.4 1268.8,175.8 1270.0,178.0 1271.2,176.6 1272.4,173.4 1273.5,172.3 1274.6,174.6 1275.4,178.6 1276.2,182.0 1276.8,185.1" fill="#232323" stroke="none" stroke-width="0.6" stroke-linejoin="round"/>
<rect x="1249.0" y="192.9" width="8.3" height="3.0" fill="#000"/>
<path d="M1259.6 192.5h1.5v1.1H1276.4v-1.1h1.5V196.0H1259.6Z" fill="#000"/>
<line x1="1177.20" y1="260.60" x2="1305.20" y2="260.60" stroke="#222" stroke-width="1.00" />
<path d="M1222.0 260.6 C1223.8 260.5 1229.0 260.3 1232.5 259.8 C1236.0 259.3 1239.8 258.7 1243.0 257.8 C1246.2 256.9 1249.5 255.5 1252.0 254.2 C1254.5 252.9 1256.2 251.2 1258.0 250.2 C1259.8 249.2 1261.6 248.1 1263.1 248.0 C1264.6 247.9 1265.7 248.7 1267.0 249.6 C1268.3 250.5 1269.8 252.4 1271.0 253.6 C1272.2 254.8 1273.3 255.8 1274.0 257.0 C1274.7 258.2 1275.2 260.0 1275.4 260.6 Z" fill="#232323" stroke="none" stroke-width="0.6"/>
<path d="M1231.2 267.8h1.5v1.1H1274.8v-1.1h1.5V271.2H1231.2Z" fill="#000"/>
<line x1="1138.50" y1="853.90" x2="1258.90" y2="853.90" stroke="#222" stroke-width="1.00" />
<path d="M1147.5 853.9 C1147.9 852.9 1149.1 849.9 1150.0 848.0 C1150.9 846.1 1152.1 843.8 1153.0 842.6 C1153.9 841.4 1154.5 840.9 1155.3 841.0 C1156.1 841.1 1156.9 842.3 1158.0 843.2 C1159.1 844.1 1160.7 845.6 1162.0 846.4 C1163.3 847.2 1164.7 847.6 1166.0 848.2 C1167.3 848.8 1168.7 849.8 1170.0 850.0 C1171.3 850.2 1172.6 849.8 1174.0 849.6 C1175.4 849.4 1176.7 848.7 1178.4 848.8 C1180.1 848.9 1182.1 849.6 1184.0 850.0 C1185.9 850.4 1188.0 851.0 1190.0 851.4 C1192.0 851.8 1193.7 852.2 1196.0 852.6 C1198.3 853.0 1200.8 853.4 1204.0 853.6 C1207.2 853.8 1213.2 853.9 1215.0 853.9 Z" fill="#232323" stroke="none" stroke-width="0.6"/>
<path d="M1146.8 861.4h1.5v1.1H1198.2v-1.1h1.5V864.9H1146.8Z" fill="#000"/>
<line x1="1137.40" y1="891.50" x2="1219.70" y2="891.50" stroke="#222" stroke-width="1.00" />
<polygon points="1168.7,891.5 1168.7,890.1 1172.1,887.3 1174.6,883.6 1176.2,880.5 1178.3,879.3 1184.0,879.2 1190.7,879.3 1194.4,880.2 1196.9,881.1 1198.8,883.6 1200.6,886.4 1203.1,888.3 1205.6,888.3 1207.4,889.2 1209.3,889.8 1212.0,890.6 1214.8,891.5" fill="#e2e2e2" stroke="none" stroke-width="0.6" stroke-linejoin="round"/>
<polygon points="1168.7,891.5 1168.7,890.1 1172.1,887.3 1174.6,883.6 1176.2,880.5 1178.3,879.3 1184.0,879.2 1190.7,879.3 1194.4,880.2 1193.2,891.5" fill="#b4b4b4" stroke="none" stroke-width="0.6" stroke-linejoin="round"/>
<polyline points="1168.7,890.1 1172.1,887.3 1174.6,883.6 1176.2,880.5 1178.3,879.3 1184.0,879.2 1190.7,879.3 1194.4,880.2 1196.9,881.1 1198.8,883.6 1200.6,886.4 1203.1,888.3 1205.6,888.3 1207.4,889.2 1209.3,889.8 1212.0,890.6 1214.8,891.5" fill="none" stroke="#2a2a2a" stroke-width="0.8" stroke-linejoin="round"/>
<polygon points="1145.5,891.5 1146.8,888.0 1148.3,884.5 1150.5,883.9 1151.9,881.4 1153.3,879.0 1154.6,881.2 1156.0,883.3 1157.4,886.0 1158.8,888.6 1161.0,888.3 1163.2,888.6 1164.1,887.6 1165.0,887.0 1166.1,888.4 1167.2,889.8 1169.7,890.4 1172.4,889.4 1175.2,888.6 1178.2,888.8 1181.4,889.2 1186.0,890.0 1190.7,890.7 1193.5,891.5" fill="#1e1e1e" stroke="none" stroke-width="0.6" stroke-linejoin="round"/>
<path d="M1144.3 899.6h1.5v1.1H1193.2v-1.1h1.5V903.0H1144.3Z" fill="#000"/>
<rect x="1166.3" y="899.3" width="3.7" height="2.4" fill="#000"/>
<line x1="1043.10" y1="988.80" x2="1139.10" y2="988.80" stroke="#222" stroke-width="1.00" />
<polygon points="1086.3,988.8 1090.0,985.0 1094.3,979.3 1095.4,980.6 1096.7,980.2 1098.6,978.0 1100.5,976.1 1102.2,977.6 1103.9,979.3 1105.4,978.0 1106.8,977.1 1107.6,978.4 1108.2,980.2 1109.2,982.6 1110.1,985.0 1111.4,987.0 1112.6,988.2 1114.0,986.0 1115.4,984.1 1116.6,985.8 1117.9,987.4 1120.3,988.8" fill="#1e1e1e" stroke="none" stroke-width="0.6" stroke-linejoin="round"/>
<path d="M1086.1 996.6h1.5v1.1H1118.5v-1.1h1.5V1000.0H1086.1Z" fill="#000"/>
<rect x="1111.1" y="996.6" width="3.9" height="2.4" fill="#000"/>
<rect x="1129.2" y="996.8" width="3.6" height="3.3" fill="#000"/>
<line x1="997.00" y1="1047.70" x2="1137.00" y2="1047.70" stroke="#222" stroke-width="1.00" />
<path d="M1041.7 1047.7 C1043.9 1047.5 1050.6 1047.2 1055.0 1046.8 C1059.4 1046.3 1064.2 1045.8 1068.0 1045.0 C1071.8 1044.2 1075.0 1043.2 1078.0 1042.0 C1081.0 1040.8 1083.8 1039.0 1086.0 1038.0 C1088.2 1037.0 1089.6 1036.2 1091.0 1035.8 C1092.4 1035.3 1093.0 1035.3 1094.2 1035.3 C1095.4 1035.3 1096.7 1035.3 1098.0 1035.8 C1099.3 1036.3 1100.5 1037.2 1102.0 1038.4 C1103.5 1039.6 1105.5 1041.8 1107.0 1043.0 C1108.5 1044.2 1109.3 1045.2 1111.0 1045.8 C1112.7 1046.4 1114.7 1046.5 1117.0 1046.8 C1119.3 1047.1 1123.4 1047.5 1124.7 1047.7 Z" fill="#232323" stroke="none" stroke-width="0.6"/>
<path d="M1040.6 1056.3h1.5v1.1H1124.0v-1.1h1.5V1059.8H1040.6Z" fill="#000"/>
<line x1="963.40" y1="1155.70" x2="1132.30" y2="1155.70" stroke="#222" stroke-width="1.00" />
<path d="M977.8 1155.7 C981.5 1155.5 992.1 1155.1 1000.0 1154.6 C1007.9 1154.1 1017.5 1153.4 1025.0 1152.6 C1032.5 1151.8 1038.8 1150.9 1045.0 1149.8 C1051.2 1148.7 1057.3 1147.2 1062.0 1146.2 C1066.7 1145.2 1070.0 1144.5 1073.0 1144.0 C1076.0 1143.5 1077.5 1143.4 1079.8 1143.5 C1082.1 1143.6 1084.5 1143.8 1087.0 1144.4 C1089.5 1145.1 1092.3 1146.2 1095.0 1147.4 C1097.7 1148.6 1100.7 1150.3 1103.0 1151.4 C1105.3 1152.5 1107.2 1153.5 1109.0 1154.2 C1110.8 1154.9 1113.0 1155.5 1113.8 1155.7 Z" fill="#232323" stroke="none" stroke-width="0.6"/>
<path d="M977.4 1164.3h1.5v1.1H1112.7v-1.1h1.5V1167.8H977.4Z" fill="#000"/>
<polygon points="1249.3,185.1 1232.5,260.6 1147.5,853.9 1145.1,891.5 1087.0,988.8 1041.7,1047.7 977.8,1155.7 1113.8,1155.7 1124.7,1047.7 1131.7,988.8 1193.5,891.5 1198.8,853.9 1275.4,260.6 1277.2,185.1" fill="none" stroke="#000" stroke-width="1.4" stroke-linejoin="round"/>
<rect x="956.9" y="112.3" width="414.8" height="1076.0" fill="none" stroke="#000" stroke-width="2.2"/>
<line x1="965.88" y1="1182.80" x2="965.88" y2="1188.35" stroke="#000" stroke-width="1.20" />
<line x1="976.95" y1="1182.80" x2="976.95" y2="1188.35" stroke="#000" stroke-width="1.20" />
<line x1="988.03" y1="1182.80" x2="988.03" y2="1188.35" stroke="#000" stroke-width="1.20" />
<line x1="999.11" y1="1182.80" x2="999.11" y2="1188.35" stroke="#000" stroke-width="1.20" />
<line x1="1010.19" y1="1182.80" x2="1010.19" y2="1188.35" stroke="#000" stroke-width="1.20" />
<line x1="1021.27" y1="1182.80" x2="1021.27" y2="1188.35" stroke="#000" stroke-width="1.20" />
<line x1="1032.34" y1="1182.80" x2="1032.34" y2="1188.35" stroke="#000" stroke-width="1.20" />
<line x1="1043.42" y1="1182.80" x2="1043.42" y2="1188.35" stroke="#000" stroke-width="1.20" />
<line x1="1054.50" y1="1177.60" x2="1054.50" y2="1188.35" stroke="#000" stroke-width="2.00" />
<line x1="1065.58" y1="1182.80" x2="1065.58" y2="1188.35" stroke="#000" stroke-width="1.20" />
<line x1="1076.66" y1="1182.80" x2="1076.66" y2="1188.35" stroke="#000" stroke-width="1.20" />
<line x1="1087.73" y1="1182.80" x2="1087.73" y2="1188.35" stroke="#000" stroke-width="1.20" />
<line x1="1098.81" y1="1182.80" x2="1098.81" y2="1188.35" stroke="#000" stroke-width="1.20" />
<line x1="1109.89" y1="1182.80" x2="1109.89" y2="1188.35" stroke="#000" stroke-width="1.20" />
<line x1="1120.97" y1="1182.80" x2="1120.97" y2="1188.35" stroke="#000" stroke-width="1.20" />
<line x1="1132.05" y1="1182.80" x2="1132.05" y2="1188.35" stroke="#000" stroke-width="1.20" />
<line x1="1143.12" y1="1182.80" x2="1143.12" y2="1188.35" stroke="#000" stroke-width="1.20" />
<line x1="1154.20" y1="1182.80" x2="1154.20" y2="1188.35" stroke="#000" stroke-width="1.20" />
<line x1="1165.28" y1="1177.60" x2="1165.28" y2="1188.35" stroke="#000" stroke-width="2.00" />
<line x1="1176.36" y1="1182.80" x2="1176.36" y2="1188.35" stroke="#000" stroke-width="1.20" />
<line x1="1187.44" y1="1182.80" x2="1187.44" y2="1188.35" stroke="#000" stroke-width="1.20" />
<line x1="1198.51" y1="1182.80" x2="1198.51" y2="1188.35" stroke="#000" stroke-width="1.20" />
<line x1="1209.59" y1="1182.80" x2="1209.59" y2="1188.35" stroke="#000" stroke-width="1.20" />
<line x1="1220.67" y1="1182.80" x2="1220.67" y2="1188.35" stroke="#000" stroke-width="1.20" />
<line x1="1231.75" y1="1182.80" x2="1231.75" y2="1188.35" stroke="#000" stroke-width="1.20" />
<line x1="1242.83" y1="1182.80" x2="1242.83" y2="1188.35" stroke="#000" stroke-width="1.20" />
<line x1="1253.90" y1="1182.80" x2="1253.90" y2="1188.35" stroke="#000" stroke-width="1.20" />
<line x1="1264.98" y1="1182.80" x2="1264.98" y2="1188.35" stroke="#000" stroke-width="1.20" />
<line x1="1276.06" y1="1177.60" x2="1276.06" y2="1188.35" stroke="#000" stroke-width="2.00" />
<line x1="1287.14" y1="1182.80" x2="1287.14" y2="1188.35" stroke="#000" stroke-width="1.20" />
<line x1="1298.22" y1="1182.80" x2="1298.22" y2="1188.35" stroke="#000" stroke-width="1.20" />
<line x1="1309.29" y1="1182.80" x2="1309.29" y2="1188.35" stroke="#000" stroke-width="1.20" />
<line x1="1320.37" y1="1182.80" x2="1320.37" y2="1188.35" stroke="#000" stroke-width="1.20" />
<line x1="1331.45" y1="1182.80" x2="1331.45" y2="1188.35" stroke="#000" stroke-width="1.20" />
<line x1="1342.53" y1="1182.80" x2="1342.53" y2="1188.35" stroke="#000" stroke-width="1.20" />
<line x1="1353.61" y1="1182.80" x2="1353.61" y2="1188.35" stroke="#000" stroke-width="1.20" />
<line x1="1364.68" y1="1182.80" x2="1364.68" y2="1188.35" stroke="#000" stroke-width="1.20" />
<text transform="translate(1062.50 1214.80) scale(0.894 1)" font-size="24.60" text-anchor="middle"  stroke="#000" stroke-width="0.35">11 000</text>
<text transform="translate(1173.28 1214.80) scale(0.894 1)" font-size="24.60" text-anchor="middle"  stroke="#000" stroke-width="0.35">10 000</text>
<text transform="translate(1284.06 1214.80) scale(0.894 1)" font-size="24.60" text-anchor="middle"  stroke="#000" stroke-width="0.35">9000</text>
<text transform="translate(1170.20 1256.00) scale(0.952 1)" font-size="29.10" text-anchor="middle"  stroke="#000" stroke-width="0.20">Modelled date (cal BP)</text>
<text transform="translate(960.90 97.80) scale(0.898 1)" font-size="29.50" text-anchor="start"  stroke="#000" stroke-width="0.20">Core A</text>
<text transform="translate(909.80 86.00) rotate(-45) scale(0.980 1)" font-size="27.30" text-anchor="start"  stroke="#000" stroke-width="0.20">Lithology</text>
<line x1="1371.70" y1="266.20" x2="1448.60" y2="266.20" stroke="#000" stroke-width="1.30" />
<line x1="1371.70" y1="859.90" x2="1448.60" y2="859.90" stroke="#000" stroke-width="1.30" />
<line x1="1371.70" y1="1045.50" x2="1448.60" y2="1045.50" stroke="#000" stroke-width="1.30" />
<text transform="translate(1414.00 235.00) rotate(-90) scale(0.923 1)" font-size="28.50" text-anchor="start"  stroke="#000" stroke-width="0.20">Zone A4a</text>
<text transform="translate(1414.00 637.10) rotate(-90) scale(0.923 1)" font-size="28.50" text-anchor="start"  stroke="#000" stroke-width="0.20">Zone A3</text>
<text transform="translate(1414.00 1000.20) rotate(-90) scale(0.923 1)" font-size="28.50" text-anchor="start"  stroke="#000" stroke-width="0.20">Zone A2</text>
<text transform="translate(1414.00 1158.90) rotate(-90) scale(0.923 1)" font-size="28.50" text-anchor="start"  stroke="#000" stroke-width="0.20">Zone A1</text>
<text transform="translate(1450.30 578.50) rotate(-90) scale(0.978 1)" font-size="27.00" text-anchor="middle"  stroke="#000" stroke-width="0.20">Plant macrofossil zones</text>
</svg></body></html>
